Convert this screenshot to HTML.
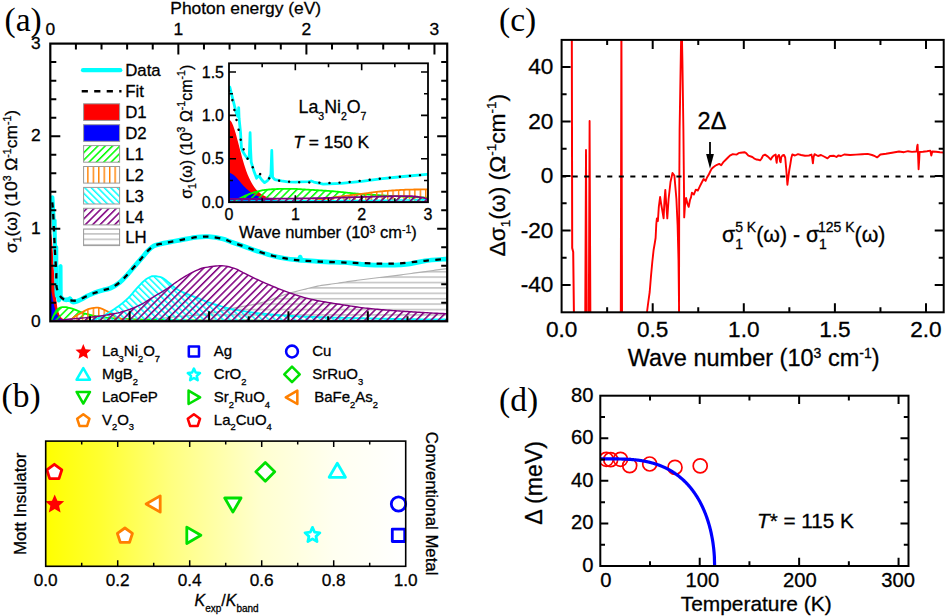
<!DOCTYPE html>
<html><head><meta charset="utf-8"><title>Figure</title>
<style>
html,body{margin:0;padding:0;background:#fff;}
body{width:945px;height:616px;overflow:hidden;}
svg{display:block;font-family:"Liberation Sans", sans-serif;}
svg text{stroke:#000;stroke-width:0.3px;}
svg text.pl{stroke:none;}
</style></head><body>
<svg width="945" height="616" viewBox="0 0 945 616">
<rect width="945" height="616" fill="#fff"/>
<defs><pattern id="hL1" patternUnits="userSpaceOnUse" width="5.2" height="10" patternTransform="rotate(45)"><line x1="0.6" y1="-1" x2="0.6" y2="11" stroke="#00ff00" stroke-width="1.9"/></pattern>
<pattern id="hL2" patternUnits="userSpaceOnUse" width="5.45" height="10" patternTransform="rotate(0)"><line x1="0.6" y1="-1" x2="0.6" y2="11" stroke="#ff8000" stroke-width="1.6"/></pattern>
<pattern id="hL3" patternUnits="userSpaceOnUse" width="4.6" height="10" patternTransform="rotate(-45)"><line x1="0.6" y1="-1" x2="0.6" y2="11" stroke="#00ffff" stroke-width="1.8"/></pattern>
<pattern id="hL4" patternUnits="userSpaceOnUse" width="5.2" height="10" patternTransform="rotate(45)"><line x1="0.6" y1="-1" x2="0.6" y2="11" stroke="#800080" stroke-width="1.9"/></pattern>
<pattern id="hLH" patternUnits="userSpaceOnUse" width="10" height="5.4"><line x1="-1" y1="1.7" x2="11" y2="1.7" stroke="#c4c4c4" stroke-width="1.6"/></pattern><clipPath id="clipA"><rect x="50.3" y="43.6" width="396.9" height="277.7"/></clipPath><clipPath id="clipI"><rect x="229" y="63.3" width="199" height="138.9"/></clipPath></defs>
<g clip-path="url(#clipA)">
<path d="M50.3,233.55 L50.78,235.01 L51.26,239.18 L51.74,245.49 L52.22,253.17 L52.71,261.44 L53.19,269.66 L53.67,277.36 L54.15,284.28 L54.63,290.32 L55.11,295.47 L55.59,299.8 L56.07,303.4 L56.55,306.38 L57.04,308.83 L57.52,310.85 L58,312.5 L58.48,313.87 L58.96,315 L59.44,315.93 L59.92,316.71 L60.4,317.36 L60.88,317.9 L61.37,318.36 L61.85,318.74 L62.33,319.07 L62.81,319.35 L63.29,319.58 L63.77,319.79 L64.25,319.96 L64.73,320.11 L65.21,320.24 L65.69,320.35 L66.18,320.45 L66.66,320.54 L67.14,320.62 L67.62,320.68 L68.1,320.74 L68.58,320.79 L69.06,320.84 L69.54,320.88 L70.02,320.92 L70.51,320.95 L70.99,320.98 L71.47,321.01 L71.95,321.03 L72.43,321.05 L72.91,321.07 L73.39,321.09 L73.87,321.11 L74.35,321.12 L74.84,321.13 L75.32,321.15 L75.8,321.16 L76.28,321.17 L76.76,321.18 L77.24,321.18 L77.72,321.19 L78.2,321.2 L78.68,321.2 L79.17,321.21 L79.65,321.22 L80.13,321.22 L80.61,321.23 L81.09,321.23 L81.57,321.23 L82.05,321.24 L82.53,321.24 L83.01,321.25 L83.5,321.25 L83.98,321.25 L84.46,321.25 L84.94,321.26 L85.42,321.26 L85.9,321.26 L86.38,321.26 L86.86,321.26 L87.34,321.27 L87.83,321.27 L88.31,321.27 L88.79,321.27 L89.27,321.27 L89.75,321.27 L90.23,321.27 L90.71,321.28 L91.19,321.28 L91.67,321.28 L92.15,321.28 L92.64,321.28 L93.12,321.28 L93.6,321.28 L94.08,321.28 L94.56,321.28 L95.04,321.28 L95.52,321.28 L96,321.29 L96.48,321.29 L96.97,321.29 L97.45,321.29 L97.93,321.29 L97.93,321.3 L50.3,321.3 Z" fill="#ff0000" stroke="#ff0000" stroke-width="1.2"/>
<path d="M50.3,290.11 L50.78,290.52 L51.26,291.71 L51.74,293.53 L52.22,295.79 L52.71,298.27 L53.19,300.8 L53.67,303.24 L54.15,305.5 L54.63,307.55 L55.11,309.36 L55.59,310.94 L56.07,312.31 L56.55,313.48 L57.04,314.49 L57.52,315.35 L58,316.09 L58.48,316.72 L58.96,317.26 L59.44,317.72 L59.92,318.12 L60.4,318.47 L60.88,318.77 L61.37,319.03 L61.85,319.26 L62.33,319.46 L62.81,319.64 L63.29,319.79 L63.77,319.93 L64.25,320.05 L64.73,320.16 L65.21,320.25 L65.69,320.34 L66.18,320.42 L66.66,320.49 L67.14,320.55 L67.62,320.6 L68.1,320.66 L68.58,320.7 L69.06,320.74 L69.54,320.78 L70.02,320.82 L70.51,320.85 L70.99,320.88 L71.47,320.9 L71.95,320.93 L72.43,320.95 L72.91,320.97 L73.39,320.99 L73.87,321.01 L74.35,321.02 L74.84,321.04 L75.32,321.05 L75.8,321.07 L76.28,321.08 L76.76,321.09 L77.24,321.1 L77.72,321.11 L78.2,321.12 L78.68,321.13 L79.17,321.14 L79.65,321.15 L80.13,321.15 L80.61,321.16 L81.09,321.17 L81.57,321.17 L82.05,321.18 L82.53,321.18 L83.01,321.19 L83.5,321.19 L83.98,321.2 L84.46,321.2 L84.94,321.2 L85.42,321.21 L85.9,321.21 L86.38,321.22 L86.86,321.22 L87.34,321.22 L87.83,321.22 L88.31,321.23 L88.79,321.23 L89.27,321.23 L89.75,321.23 L90.23,321.24 L90.71,321.24 L91.19,321.24 L91.67,321.24 L92.15,321.25 L92.64,321.25 L93.12,321.25 L93.6,321.25 L94.08,321.25 L94.56,321.25 L95.04,321.26 L95.52,321.26 L96,321.26 L96.48,321.26 L96.97,321.26 L97.45,321.26 L97.93,321.26 L97.93,321.3 L50.3,321.3 Z" fill="#0000ff"/>
<path d="M50.3,321.3 L52.29,321.3 L54.29,321.3 L56.28,321.29 L58.28,321.29 L60.27,321.28 L62.27,321.28 L64.26,321.27 L66.26,321.26 L68.25,321.25 L70.24,321.24 L72.24,321.23 L74.23,321.22 L76.23,321.21 L78.22,321.19 L80.22,321.18 L82.21,321.16 L84.21,321.15 L86.2,321.13 L88.19,321.11 L90.19,321.1 L92.18,321.08 L94.18,321.06 L96.17,321.04 L98.17,321.02 L100.16,321 L102.16,320.97 L104.15,320.94 L106.15,320.9 L108.14,320.86 L110.13,320.81 L112.13,320.76 L114.12,320.71 L116.12,320.65 L118.11,320.59 L120.11,320.53 L122.1,320.46 L124.1,320.39 L126.09,320.31 L128.08,320.23 L130.08,320.15 L132.07,320.07 L134.07,319.99 L136.06,319.9 L138.06,319.81 L140.05,319.71 L142.05,319.62 L144.04,319.52 L146.03,319.42 L148.03,319.31 L150.02,319.19 L152.02,319.04 L154.01,318.89 L156.01,318.73 L158,318.55 L160,318.37 L161.99,318.18 L163.98,317.98 L165.98,317.79 L167.97,317.59 L169.97,317.39 L171.96,317.19 L173.96,316.99 L175.95,316.8 L177.95,316.61 L179.94,316.43 L181.94,316.26 L183.93,316.09 L185.92,315.92 L187.92,315.75 L189.91,315.58 L191.91,315.41 L193.9,315.24 L195.9,315.05 L197.89,314.86 L199.89,314.66 L201.88,314.45 L203.87,314.22 L205.87,313.98 L207.86,313.73 L209.86,313.45 L211.85,313.14 L213.85,312.75 L215.84,312.32 L217.84,311.84 L219.83,311.34 L221.82,310.82 L223.82,310.3 L225.81,309.8 L227.81,309.32 L229.8,308.87 L231.8,308.46 L233.79,308.07 L235.79,307.7 L237.78,307.34 L239.77,306.98 L241.77,306.63 L243.76,306.29 L245.76,305.94 L247.75,305.58 L249.75,305.21 L251.74,304.83 L253.74,304.43 L255.73,304.01 L257.73,303.57 L259.72,303.1 L261.71,302.58 L263.71,302.02 L265.7,301.4 L267.7,300.75 L269.69,300.06 L271.69,299.35 L273.68,298.63 L275.68,297.9 L277.67,297.17 L279.66,296.44 L281.66,295.73 L283.65,295.04 L285.65,294.39 L287.64,293.77 L289.64,293.19 L291.63,292.63 L293.63,292.09 L295.62,291.56 L297.61,291.04 L299.61,290.54 L301.6,290.04 L303.6,289.54 L305.59,289.05 L307.59,288.54 L309.58,288.04 L311.58,287.54 L313.57,287.06 L315.56,286.6 L317.56,286.17 L319.55,285.78 L321.55,285.43 L323.54,285.11 L325.54,284.82 L327.53,284.54 L329.53,284.28 L331.52,284.02 L333.52,283.77 L335.51,283.51 L337.5,283.24 L339.5,282.96 L341.49,282.66 L343.49,282.35 L345.48,282.03 L347.48,281.71 L349.47,281.4 L351.47,281.1 L353.46,280.82 L355.45,280.54 L357.45,280.27 L359.44,280.01 L361.44,279.74 L363.43,279.49 L365.43,279.23 L367.42,278.98 L369.42,278.73 L371.41,278.49 L373.4,278.24 L375.4,278 L377.39,277.76 L379.39,277.52 L381.38,277.28 L383.38,277.04 L385.37,276.8 L387.37,276.55 L389.36,276.31 L391.35,276.06 L393.35,275.81 L395.34,275.56 L397.34,275.31 L399.33,275.05 L401.33,274.79 L403.32,274.52 L405.32,274.26 L407.31,274 L409.31,273.73 L411.3,273.47 L413.29,273.2 L415.29,272.93 L417.28,272.66 L419.28,272.39 L421.27,272.12 L423.27,271.85 L425.26,271.58 L427.26,271.31 L429.25,271.03 L431.24,270.76 L433.24,270.48 L435.23,270.21 L437.23,269.93 L439.22,269.65 L441.22,269.38 L443.21,269.1 L445.21,268.82 L447.2,268.54 L447.2,321.3 L50.3,321.3 Z" fill="url(#hLH)" stroke="#b0b0b0" stroke-width="1.2"/>
<path d="M50.3,321.3 L52.29,318.52 L54.29,314.24 L56.28,310.9 L58.28,308.68 L60.27,307.61 L62.27,307.17 L64.26,307.06 L66.26,307.14 L68.25,307.7 L70.24,308.2 L72.24,308.71 L74.23,309.31 L76.23,310.08 L78.22,310.98 L80.22,311.89 L82.21,312.65 L84.21,313.28 L86.2,313.85 L88.19,314.38 L90.19,314.87 L92.18,315.34 L94.18,315.78 L96.17,316.19 L98.17,316.52 L100.16,316.82 L102.16,317.11 L104.15,317.38 L106.15,317.63 L108.14,317.85 L110.13,318.05 L112.13,318.22 L114.12,318.36 L116.12,318.48 L118.11,318.6 L120.11,318.71 L122.1,318.81 L124.1,318.91 L126.09,319 L128.08,319.08 L130.08,319.17 L132.07,319.24 L134.07,319.31 L136.06,319.38 L138.06,319.44 L140.05,319.5 L142.05,319.55 L144.04,319.6 L146.03,319.64 L148.03,319.69 L150.02,319.73 L152.02,319.78 L154.01,319.82 L156.01,319.86 L158,319.9 L160,319.94 L161.99,319.98 L163.98,320.02 L165.98,320.05 L167.97,320.09 L169.97,320.12 L171.96,320.16 L173.96,320.19 L175.95,320.22 L177.95,320.25 L179.94,320.28 L181.94,320.31 L183.93,320.33 L185.92,320.36 L187.92,320.38 L189.91,320.41 L191.91,320.43 L193.9,320.45 L195.9,320.47 L197.89,320.48 L199.89,320.5 L201.88,320.52 L203.87,320.53 L205.87,320.54 L207.86,320.55 L209.86,320.56 L211.85,320.57 L213.85,320.58 L215.84,320.59 L217.84,320.6 L219.83,320.61 L221.82,320.62 L223.82,320.63 L225.81,320.64 L227.81,320.64 L229.8,320.65 L231.8,320.66 L233.79,320.67 L235.79,320.68 L237.78,320.69 L239.77,320.69 L241.77,320.7 L243.76,320.71 L245.76,320.72 L247.75,320.73 L249.75,320.73 L251.74,320.74 L253.74,320.75 L255.73,320.76 L257.73,320.76 L259.72,320.77 L261.71,320.78 L263.71,320.79 L265.7,320.79 L267.7,320.8 L269.69,320.81 L271.69,320.81 L273.68,320.82 L275.68,320.83 L277.67,320.83 L279.66,320.84 L281.66,320.85 L283.65,320.85 L285.65,320.86 L287.64,320.87 L289.64,320.87 L291.63,320.88 L293.63,320.88 L295.62,320.89 L297.61,320.9 L299.61,320.9 L301.6,320.91 L303.6,320.91 L305.59,320.92 L307.59,320.92 L309.58,320.93 L311.58,320.94 L313.57,320.94 L315.56,320.95 L317.56,320.95 L319.55,320.96 L321.55,320.96 L323.54,320.97 L325.54,320.97 L327.53,320.97 L329.53,320.98 L331.52,320.98 L333.52,320.99 L335.51,320.99 L337.5,321 L339.5,321 L341.49,321.01 L343.49,321.01 L345.48,321.01 L347.48,321.02 L349.47,321.02 L351.47,321.03 L353.46,321.03 L355.45,321.03 L357.45,321.04 L359.44,321.04 L361.44,321.04 L363.43,321.05 L365.43,321.05 L367.42,321.05 L369.42,321.06 L371.41,321.06 L373.4,321.06 L375.4,321.06 L377.39,321.07 L379.39,321.07 L381.38,321.07 L383.38,321.08 L385.37,321.08 L387.37,321.08 L389.36,321.08 L391.35,321.08 L393.35,321.09 L395.34,321.09 L397.34,321.09 L399.33,321.09 L401.33,321.09 L403.32,321.1 L405.32,321.1 L407.31,321.1 L409.31,321.1 L411.3,321.1 L413.29,321.1 L415.29,321.1 L417.28,321.11 L419.28,321.11 L421.27,321.11 L423.27,321.11 L425.26,321.11 L427.26,321.11 L429.25,321.11 L431.24,321.11 L433.24,321.11 L435.23,321.11 L437.23,321.11 L439.22,321.11 L441.22,321.11 L443.21,321.11 L445.21,321.11 L447.2,321.11 L447.2,321.3 L50.3,321.3 Z" fill="url(#hL1)" stroke="#00ff00" stroke-width="1.8"/>
<path d="M50.3,321.3 L52.29,321.3 L54.29,321.3 L56.28,321.3 L58.28,321.3 L60.27,321.3 L62.27,321.3 L64.26,321.24 L66.26,320.95 L68.25,320.49 L70.24,319.84 L72.24,318.55 L74.23,317 L76.23,315.7 L78.22,314.55 L80.22,313.44 L82.21,312.33 L84.21,311.13 L86.2,309.99 L88.19,309.18 L90.19,308.57 L92.18,308.07 L94.18,307.8 L96.17,307.72 L98.17,307.7 L100.16,308.22 L102.16,308.92 L104.15,309.78 L106.15,310.78 L108.14,311.89 L110.13,313.24 L112.13,314.58 L114.12,315.87 L116.12,317.04 L118.11,317.82 L120.11,318.47 L122.1,319.03 L124.1,319.47 L126.09,319.78 L128.08,319.96 L130.08,320.13 L132.07,320.28 L134.07,320.41 L136.06,320.53 L138.06,320.62 L140.05,320.7 L142.05,320.77 L144.04,320.81 L146.03,320.84 L148.03,320.87 L150.02,320.89 L152.02,320.91 L154.01,320.93 L156.01,320.95 L158,320.97 L160,320.99 L161.99,321.01 L163.98,321.02 L165.98,321.04 L167.97,321.05 L169.97,321.07 L171.96,321.08 L173.96,321.09 L175.95,321.11 L177.95,321.12 L179.94,321.13 L181.94,321.14 L183.93,321.15 L185.92,321.15 L187.92,321.16 L189.91,321.17 L191.91,321.17 L193.9,321.18 L195.9,321.19 L197.89,321.19 L199.89,321.19 L201.88,321.2 L203.87,321.2 L205.87,321.2 L207.86,321.21 L209.86,321.21 L211.85,321.21 L213.85,321.21 L215.84,321.21 L217.84,321.21 L219.83,321.22 L221.82,321.22 L223.82,321.22 L225.81,321.22 L227.81,321.22 L229.8,321.22 L231.8,321.23 L233.79,321.23 L235.79,321.23 L237.78,321.23 L239.77,321.23 L241.77,321.23 L243.76,321.23 L245.76,321.24 L247.75,321.24 L249.75,321.24 L251.74,321.24 L253.74,321.24 L255.73,321.24 L257.73,321.24 L259.72,321.25 L261.71,321.25 L263.71,321.25 L265.7,321.25 L267.7,321.25 L269.69,321.25 L271.69,321.25 L273.68,321.25 L275.68,321.26 L277.67,321.26 L279.66,321.26 L281.66,321.26 L283.65,321.26 L285.65,321.26 L287.64,321.26 L289.64,321.26 L291.63,321.26 L293.63,321.27 L295.62,321.27 L297.61,321.27 L299.61,321.27 L301.6,321.27 L303.6,321.27 L305.59,321.27 L307.59,321.27 L309.58,321.27 L311.58,321.27 L313.57,321.27 L315.56,321.27 L317.56,321.28 L319.55,321.28 L321.55,321.28 L323.54,321.28 L325.54,321.28 L327.53,321.28 L329.53,321.28 L331.52,321.28 L333.52,321.28 L335.51,321.28 L337.5,321.28 L339.5,321.28 L341.49,321.28 L343.49,321.28 L345.48,321.29 L347.48,321.29 L349.47,321.29 L351.47,321.29 L353.46,321.29 L355.45,321.29 L357.45,321.29 L359.44,321.29 L361.44,321.29 L363.43,321.29 L365.43,321.29 L367.42,321.29 L369.42,321.29 L371.41,321.29 L373.4,321.29 L375.4,321.29 L377.39,321.29 L379.39,321.29 L381.38,321.29 L383.38,321.29 L385.37,321.29 L387.37,321.3 L389.36,321.3 L391.35,321.3 L393.35,321.3 L395.34,321.3 L397.34,321.3 L399.33,321.3 L401.33,321.3 L403.32,321.3 L405.32,321.3 L407.31,321.3 L409.31,321.3 L411.3,321.3 L413.29,321.3 L415.29,321.3 L417.28,321.3 L419.28,321.3 L421.27,321.3 L423.27,321.3 L425.26,321.3 L427.26,321.3 L429.25,321.3 L431.24,321.3 L433.24,321.3 L435.23,321.3 L437.23,321.3 L439.22,321.3 L441.22,321.3 L443.21,321.3 L445.21,321.3 L447.2,321.3 L447.2,321.3 L50.3,321.3 Z" fill="url(#hL2)" stroke="#ff8000" stroke-width="1.8"/>
<path d="M50.3,321.3 L52.29,321.3 L54.29,321.3 L56.28,321.3 L58.28,321.3 L60.27,321.3 L62.27,321.3 L64.26,321.3 L66.26,321.3 L68.25,321.3 L70.24,321.3 L72.24,321.3 L74.23,321.3 L76.23,321.3 L78.22,321.3 L80.22,321.3 L82.21,321.3 L84.21,321.23 L86.2,321.04 L88.19,320.77 L90.19,320.42 L92.18,320.02 L94.18,319.58 L96.17,319.05 L98.17,318.26 L100.16,317.3 L102.16,316.29 L104.15,315.28 L106.15,314.19 L108.14,313.03 L110.13,311.81 L112.13,310.53 L114.12,309.21 L116.12,307.84 L118.11,306.41 L120.11,304.93 L122.1,303.37 L124.1,301.73 L126.09,300 L128.08,298.17 L130.08,296.12 L132.07,293.82 L134.07,291.42 L136.06,289.06 L138.06,286.88 L140.05,284.82 L142.05,282.74 L144.04,280.82 L146.03,279.22 L148.03,278.05 L150.02,276.99 L152.02,276.24 L154.01,276.04 L156.01,276.2 L158,276.52 L160,276.96 L161.99,277.54 L163.98,278.67 L165.98,280.19 L167.97,281.83 L169.97,283.43 L171.96,285.25 L173.96,287.08 L175.95,288.64 L177.95,289.83 L179.94,290.85 L181.94,291.77 L183.93,292.63 L185.92,293.46 L187.92,294.3 L189.91,295.1 L191.91,295.87 L193.9,296.63 L195.9,297.38 L197.89,298.14 L199.89,298.92 L201.88,299.72 L203.87,300.51 L205.87,301.29 L207.86,302.04 L209.86,302.74 L211.85,303.39 L213.85,304.04 L215.84,304.68 L217.84,305.31 L219.83,305.92 L221.82,306.51 L223.82,307.07 L225.81,307.61 L227.81,308.12 L229.8,308.6 L231.8,309.04 L233.79,309.45 L235.79,309.83 L237.78,310.2 L239.77,310.56 L241.77,310.9 L243.76,311.22 L245.76,311.53 L247.75,311.82 L249.75,312.1 L251.74,312.37 L253.74,312.62 L255.73,312.86 L257.73,313.09 L259.72,313.31 L261.71,313.52 L263.71,313.73 L265.7,313.94 L267.7,314.13 L269.69,314.33 L271.69,314.51 L273.68,314.69 L275.68,314.86 L277.67,315.02 L279.66,315.17 L281.66,315.32 L283.65,315.45 L285.65,315.58 L287.64,315.7 L289.64,315.81 L291.63,315.92 L293.63,316.02 L295.62,316.12 L297.61,316.22 L299.61,316.32 L301.6,316.41 L303.6,316.5 L305.59,316.58 L307.59,316.67 L309.58,316.75 L311.58,316.83 L313.57,316.9 L315.56,316.98 L317.56,317.05 L319.55,317.12 L321.55,317.18 L323.54,317.25 L325.54,317.31 L327.53,317.37 L329.53,317.43 L331.52,317.48 L333.52,317.53 L335.51,317.58 L337.5,317.63 L339.5,317.68 L341.49,317.73 L343.49,317.78 L345.48,317.83 L347.48,317.88 L349.47,317.93 L351.47,317.97 L353.46,318.02 L355.45,318.07 L357.45,318.12 L359.44,318.16 L361.44,318.21 L363.43,318.26 L365.43,318.3 L367.42,318.35 L369.42,318.39 L371.41,318.44 L373.4,318.48 L375.4,318.52 L377.39,318.57 L379.39,318.61 L381.38,318.65 L383.38,318.69 L385.37,318.73 L387.37,318.77 L389.36,318.81 L391.35,318.84 L393.35,318.88 L395.34,318.92 L397.34,318.95 L399.33,318.99 L401.33,319.02 L403.32,319.05 L405.32,319.08 L407.31,319.11 L409.31,319.14 L411.3,319.17 L413.29,319.2 L415.29,319.22 L417.28,319.25 L419.28,319.27 L421.27,319.29 L423.27,319.31 L425.26,319.33 L427.26,319.35 L429.25,319.37 L431.24,319.38 L433.24,319.39 L435.23,319.41 L437.23,319.42 L439.22,319.43 L441.22,319.43 L443.21,319.44 L445.21,319.45 L447.2,319.45 L447.2,321.3 L50.3,321.3 Z" fill="url(#hL3)" stroke="#00ffff" stroke-width="1.8"/>
<path d="M50.3,321.3 L52.29,321.05 L54.29,320.8 L56.28,320.56 L58.28,320.33 L60.27,320.1 L62.27,319.87 L64.26,319.65 L66.26,319.44 L68.25,319.24 L70.24,319.05 L72.24,318.87 L74.23,318.7 L76.23,318.53 L78.22,318.36 L80.22,318.18 L82.21,318.01 L84.21,317.83 L86.2,317.63 L88.19,317.43 L90.19,317.2 L92.18,316.97 L94.18,316.73 L96.17,316.49 L98.17,316.23 L100.16,315.96 L102.16,315.68 L104.15,315.39 L106.15,315.08 L108.14,314.76 L110.13,314.42 L112.13,314.06 L114.12,313.68 L116.12,313.28 L118.11,312.83 L120.11,312.33 L122.1,311.78 L124.1,311.19 L126.09,310.57 L128.08,309.92 L130.08,309.23 L132.07,308.48 L134.07,307.69 L136.06,306.84 L138.06,305.95 L140.05,305 L142.05,303.99 L144.04,302.86 L146.03,301.63 L148.03,300.35 L150.02,299.05 L152.02,297.78 L154.01,296.55 L156.01,295.37 L158,294.2 L160,293.04 L161.99,291.87 L163.98,290.66 L165.98,289.41 L167.97,288.09 L169.97,286.69 L171.96,285.25 L173.96,283.8 L175.95,282.38 L177.95,281.01 L179.94,279.71 L181.94,278.42 L183.93,277.15 L185.92,275.91 L187.92,274.74 L189.91,273.64 L191.91,272.65 L193.9,271.67 L195.9,270.71 L197.89,269.8 L199.89,268.98 L201.88,268.29 L203.87,267.78 L205.87,267.43 L207.86,267.09 L209.86,266.77 L211.85,266.49 L213.85,266.24 L215.84,266.04 L217.84,265.89 L219.83,265.79 L221.82,265.76 L223.82,265.86 L225.81,266.12 L227.81,266.52 L229.8,267.01 L231.8,267.57 L233.79,268.15 L235.79,268.81 L237.78,269.71 L239.77,270.77 L241.77,271.9 L243.76,272.99 L245.76,273.99 L247.75,274.99 L249.75,275.97 L251.74,276.93 L253.74,277.87 L255.73,278.81 L257.73,279.73 L259.72,280.64 L261.71,281.54 L263.71,282.43 L265.7,283.29 L267.7,284.15 L269.69,285 L271.69,285.85 L273.68,286.69 L275.68,287.52 L277.67,288.34 L279.66,289.15 L281.66,289.93 L283.65,290.7 L285.65,291.44 L287.64,292.16 L289.64,292.85 L291.63,293.53 L293.63,294.2 L295.62,294.86 L297.61,295.51 L299.61,296.14 L301.6,296.74 L303.6,297.33 L305.59,297.88 L307.59,298.41 L309.58,298.91 L311.58,299.37 L313.57,299.8 L315.56,300.21 L317.56,300.61 L319.55,300.99 L321.55,301.35 L323.54,301.7 L325.54,302.05 L327.53,302.38 L329.53,302.7 L331.52,303.02 L333.52,303.34 L335.51,303.65 L337.5,303.96 L339.5,304.28 L341.49,304.59 L343.49,304.91 L345.48,305.22 L347.48,305.54 L349.47,305.85 L351.47,306.16 L353.46,306.46 L355.45,306.76 L357.45,307.04 L359.44,307.32 L361.44,307.59 L363.43,307.84 L365.43,308.08 L367.42,308.3 L369.42,308.51 L371.41,308.71 L373.4,308.91 L375.4,309.1 L377.39,309.28 L379.39,309.47 L381.38,309.64 L383.38,309.81 L385.37,309.98 L387.37,310.14 L389.36,310.3 L391.35,310.45 L393.35,310.6 L395.34,310.75 L397.34,310.89 L399.33,311.03 L401.33,311.17 L403.32,311.3 L405.32,311.44 L407.31,311.57 L409.31,311.7 L411.3,311.82 L413.29,311.95 L415.29,312.07 L417.28,312.19 L419.28,312.31 L421.27,312.43 L423.27,312.54 L425.26,312.65 L427.26,312.76 L429.25,312.87 L431.24,312.98 L433.24,313.08 L435.23,313.18 L437.23,313.27 L439.22,313.37 L441.22,313.46 L443.21,313.54 L445.21,313.63 L447.2,313.71 L447.2,321.3 L50.3,321.3 Z" fill="url(#hL4)" stroke="#800080" stroke-width="1.4"/>
<path d="M66.18,299.82 C66.36,299.81 66.76,299.79 67.29,299.73 C67.82,299.67 68.9,299.62 69.35,299.45 C69.8,299.28 69.77,298.65 69.99,298.71 C70.2,298.78 70.14,299.27 70.62,299.82 C71.1,300.38 71.76,301.81 72.84,302.05 C73.93,302.28 75.6,301.72 77.13,301.21 C78.67,300.7 80.41,299.84 82.05,298.99 C83.69,298.14 85.31,296.97 86.97,296.12 C88.64,295.27 90.28,294.62 92.05,293.9 C93.82,293.18 95.83,292.42 97.6,291.8 C99.37,291.18 100.52,290.83 102.7,290.2 C104.88,289.57 107.85,289.32 110.7,288 C113.55,286.68 116.97,284.58 119.8,282.3 C122.63,280.02 125.25,276.95 127.7,274.3 C130.15,271.65 132.22,269.05 134.5,266.4 C136.78,263.75 139.12,261.05 141.4,258.4 C143.68,255.75 146.12,252.58 148.2,250.5 C150.28,248.42 151.63,247.05 153.9,245.9 C156.17,244.75 158.97,244.27 161.8,243.6 C164.63,242.93 167.23,242.6 170.9,241.9 C174.57,241.2 179.37,240.2 183.8,239.4 C188.23,238.6 193.38,237.55 197.5,237.1 C201.62,236.65 204.37,236.42 208.5,236.7 C212.63,236.98 218.4,237.88 222.3,238.8 C226.2,239.72 228,240.83 231.9,242.2 C235.8,243.57 241.12,245.4 245.7,247 C250.28,248.6 254.82,250.3 259.4,251.8 C263.98,253.3 268.62,254.85 273.2,256 C277.78,257.15 282.85,258.07 286.9,258.7 C290.95,259.33 295.43,259.57 297.5,259.8 C299.57,260.03 298.85,260.53 299.3,260.1 C299.75,259.67 299.88,257.17 300.2,257.2 C300.52,257.23 300.73,259.77 301.2,260.3 C301.67,260.83 299.87,260.18 303,260.4 C306.13,260.62 313.83,261.27 320,261.6 C326.17,261.93 335,262.2 340,262.4 C345,262.6 345.83,262.42 350,262.8 C354.17,263.18 360.27,264.32 365,264.7 C369.73,265.08 374.23,265.02 378.4,265.1 C382.57,265.18 386.58,265.23 390,265.2 C393.42,265.17 395.57,265.12 398.9,264.9 C402.23,264.68 405.65,264.58 410,263.9 C414.35,263.22 418.83,261.63 425,260.8 C431.17,259.97 443.33,259.22 447,258.9" fill="none" stroke="#00ffff" stroke-width="4.7" stroke-linejoin="round" stroke-linecap="round"/>
<path d="M52.3,198.19 C52.33,198.25 52.32,195.95 52.49,198.56 C52.67,201.16 53.1,209.39 53.35,213.83 C53.6,218.27 53.81,222.58 53.98,225.22 C54.15,227.85 54.27,229.38 54.36,229.66 C54.45,229.94 54.48,228.41 54.52,226.88 C54.56,225.35 54.59,219.65 54.62,220.49 C54.65,221.34 54.64,227.68 54.71,231.97 C54.78,236.26 54.95,241.06 55.05,246.23 C55.14,251.4 55.17,259.42 55.27,262.98 C55.37,266.55 55.49,266.28 55.63,267.61 C55.77,268.94 56,269.74 56.11,270.94 C56.22,272.15 56.25,274.46 56.28,274.83 C56.31,275.2 56.29,277.76 56.3,273.17 C56.3,268.57 56.3,248.48 56.3,247.25 C56.3,246.01 56.3,260.55 56.31,265.76 C56.31,270.97 56.31,274.8 56.31,278.53 C56.31,282.27 56.23,285.29 56.33,288.16 C56.43,291.03 56.75,294.86 56.9,295.75 C57.06,296.65 57.18,293.85 57.29,293.53 C57.39,293.21 57.41,293.13 57.56,293.81 C57.7,294.49 57.96,296.49 58.17,297.6 C58.39,298.71 58.64,300.23 58.83,300.47 C59.01,300.72 59.13,299.56 59.27,299.08 C59.41,298.61 59.49,298.81 59.67,297.6 C59.84,296.4 60.19,297.11 60.33,291.86 C60.48,286.62 60.47,265.65 60.54,266.13 C60.61,266.61 60.61,289.58 60.73,294.73 C60.85,299.89 61.11,296.57 61.25,297.05 C61.4,297.53 61.32,297.34 61.59,297.6 C61.85,297.87 62.38,298.3 62.84,298.62 C63.31,298.95 63.81,299.35 64.37,299.55 C64.92,299.75 65.69,299.79 66.18,299.82 C66.66,299.86 66.76,299.79 67.29,299.73 C67.82,299.67 68.9,299.62 69.35,299.45 C69.8,299.28 69.77,298.65 69.99,298.71 C70.2,298.78 70.52,299.64 70.62,299.82" fill="none" stroke="#00ffff" stroke-width="4.0" stroke-linejoin="round" stroke-linecap="round"/>
<path d="M52.3,202.35 C52.43,203.97 52.83,207.59 53.09,212.06 C53.36,216.53 53.62,223.52 53.89,229.16 C54.15,234.79 54.42,240.65 54.68,245.86 C54.95,251.08 55.21,256.32 55.48,260.43 C55.74,264.53 56.13,267.68 56.27,270.5 C56.41,273.32 56.29,275.21 56.29,277.34 C56.3,279.46 56.26,281.57 56.32,283.26 C56.38,284.95 56.46,286.31 56.65,287.5 C56.84,288.69 57.18,289.54 57.44,290.41 C57.71,291.27 57.97,292.03 58.24,292.7 C58.5,293.37 58.77,293.95 59.03,294.46 C59.3,294.96 59.56,295.34 59.83,295.72 C60.09,296.11 60.35,296.44 60.62,296.74 C60.88,297.05 61.15,297.32 61.41,297.57 C61.68,297.83 61.94,298.07 62.21,298.28 C62.47,298.49 62.74,298.67 63,298.82 C63.27,298.97 63.53,299.06 63.79,299.16 C64.06,299.27 64.32,299.35 64.59,299.44 C64.85,299.52 65.12,299.59 65.38,299.65 C65.65,299.72 65.91,299.77 66.18,299.82 C66.44,299.88 66.71,299.92 66.97,299.97 C67.23,300.01 67.5,300.05 67.76,300.09 C68.03,300.13 68.29,300.17 68.56,300.2 C68.82,300.24 69.09,300.27 69.35,300.3 C69.62,300.33 69.88,300.36 70.14,300.39 C70.41,300.42 70.67,300.44 70.94,300.47 C71.2,300.5 71.47,300.53 71.73,300.56 C72,300.59 72.26,300.63 72.53,300.65 C72.79,300.68 73.06,300.71 73.32,300.72 C73.58,300.74 73.85,300.75 74.11,300.75 C74.38,300.75 74.64,300.74 74.91,300.71 C75.17,300.69 75.44,300.65 75.7,300.61 C75.97,300.57 76.23,300.51 76.5,300.46 C76.76,300.4 77.02,300.33 77.29,300.26 C77.55,300.2 77.82,300.12 78.08,300.05 C78.35,299.98 78.61,299.91 78.88,299.82 C79.14,299.74 79.41,299.65 79.67,299.54 C79.94,299.43 80.2,299.29 80.46,299.16 C80.73,299.02 80.99,298.88 81.26,298.74 C81.52,298.61 81.79,298.47 82.05,298.34 C82.32,298.21 82.58,298.09 82.85,297.97 C83.11,297.84 83.38,297.71 83.64,297.59 C83.9,297.46 84.17,297.33 84.43,297.2 C84.7,297.07 84.96,296.94 85.23,296.81 C85.49,296.68 85.76,296.55 86.02,296.43 C86.29,296.3 86.55,296.17 86.81,296.05 C87.08,295.92 87.34,295.8 87.61,295.67 C87.87,295.55 88.14,295.43 88.4,295.31 C88.67,295.2 88.93,295.08 89.2,294.97 C89.46,294.86 89.73,294.75 89.99,294.64 C90.25,294.53 90.52,294.43 90.78,294.33 C91.05,294.22 91.31,294.12 91.58,294.02 C91.84,293.92 92.11,293.82 92.37,293.72 C92.64,293.62 92.9,293.52 93.17,293.43 C93.43,293.33 93.69,293.24 93.96,293.14 C94.22,293.05 94.49,292.96 94.75,292.87 C95.02,292.78 95.28,292.69 95.55,292.6 C95.81,292.52 96.08,292.43 96.34,292.35 C96.61,292.26 96.07,292.46 97.13,292.1 C98.19,291.74 100.44,290.88 102.7,290.2 C104.96,289.52 107.85,289.32 110.7,288 C113.55,286.68 116.97,284.58 119.8,282.3 C122.63,280.02 125.25,276.95 127.7,274.3 C130.15,271.65 132.22,269.05 134.5,266.4 C136.78,263.75 139.12,261.05 141.4,258.4 C143.68,255.75 146.12,252.58 148.2,250.5 C150.28,248.42 151.63,247.05 153.9,245.9 C156.17,244.75 158.97,244.27 161.8,243.6 C164.63,242.93 167.23,242.6 170.9,241.9 C174.57,241.2 179.37,240.2 183.8,239.4 C188.23,238.6 193.38,237.55 197.5,237.1 C201.62,236.65 204.37,236.42 208.5,236.7 C212.63,236.98 218.4,237.88 222.3,238.8 C226.2,239.72 228,240.83 231.9,242.2 C235.8,243.57 241.12,245.4 245.7,247 C250.28,248.6 254.82,250.3 259.4,251.8 C263.98,253.3 268.62,254.85 273.2,256 C277.78,257.15 282.43,257.95 286.9,258.7 C291.37,259.45 294.48,260.02 300,260.5 C305.52,260.98 313.33,261.28 320,261.6 C326.67,261.92 335,262.2 340,262.4 C345,262.6 345.83,262.67 350,262.8 C354.17,262.93 360.27,263.07 365,263.2 C369.73,263.33 374.23,263.52 378.4,263.6 C382.57,263.68 386.58,263.73 390,263.7 C393.42,263.67 395.57,263.62 398.9,263.4 C402.23,263.18 405.65,262.83 410,262.4 C414.35,261.97 418.83,261.38 425,260.8 C431.17,260.22 443.33,259.22 447,258.9" fill="none" stroke="#000" stroke-width="2.3" stroke-dasharray="5.5 6.3"/>
</g>
<rect x="50.3" y="43.6" width="396.9" height="277.7" fill="none" stroke="#000" stroke-width="2.2"/>
<path d="M75.91,43.6 v6 M101.52,43.6 v6 M127.13,43.6 v6 M152.74,43.6 v6 M178.35,43.6 v11 M203.96,43.6 v6 M229.57,43.6 v6 M255.18,43.6 v6 M280.79,43.6 v6 M306.4,43.6 v11 M332.01,43.6 v6 M357.62,43.6 v6 M383.23,43.6 v6 M408.84,43.6 v6 M434.45,43.6 v11 M89.99,321.3 v-5 M129.68,321.3 v-10 M169.37,321.3 v-5 M209.06,321.3 v-10 M248.75,321.3 v-5 M288.44,321.3 v-10 M328.13,321.3 v-5 M367.82,321.3 v-10 M407.51,321.3 v-5 M50.3,302.79 h6 M447.2,302.79 h-6 M50.3,284.27 h6 M447.2,284.27 h-6 M50.3,265.76 h6 M447.2,265.76 h-6 M50.3,247.25 h6 M447.2,247.25 h-6 M50.3,228.73 h10 M447.2,228.73 h-10 M50.3,210.22 h6 M447.2,210.22 h-6 M50.3,191.71 h6 M447.2,191.71 h-6 M50.3,173.19 h6 M447.2,173.19 h-6 M50.3,154.68 h6 M447.2,154.68 h-6 M50.3,136.17 h10 M447.2,136.17 h-10 M50.3,117.65 h6 M447.2,117.65 h-6 M50.3,99.14 h6 M447.2,99.14 h-6 M50.3,80.63 h6 M447.2,80.63 h-6 M50.3,62.11 h6 M447.2,62.11 h-6" stroke="#000" stroke-width="2" fill="none"/>
<g font-size="17.4"><text x="50.3" y="35" text-anchor="middle">0</text><text x="178.35" y="35" text-anchor="middle">1</text><text x="306.4" y="35" text-anchor="middle">2</text><text x="434.45" y="35" text-anchor="middle">3</text><text x="40.6" y="326.5" text-anchor="end">0</text><text x="40.6" y="233.93" text-anchor="end">1</text><text x="40.6" y="141.37" text-anchor="end">2</text><text x="40.6" y="48.8" text-anchor="end">3</text></g>
<text x="245.7" y="13.6" font-size="17.4" text-anchor="middle">Photon energy (eV)</text>
<text transform="translate(16.8,181.5) rotate(-90)" font-size="17.4" text-anchor="middle">&#963;<tspan font-size="10.5" dy="4">1</tspan><tspan dy="-4">(&#969;) (10</tspan><tspan font-size="10.5" dy="-6">3</tspan><tspan dy="6"> &#937;</tspan><tspan font-size="10.5" dy="-6">-1</tspan><tspan dy="6">cm</tspan><tspan font-size="10.5" dy="-6">-1</tspan><tspan dy="6">)</tspan></text>
<g><line x1="83" y1="70.2" x2="120.3" y2="70.2" stroke="#00ffff" stroke-width="4.2" stroke-linecap="round"/><line x1="81.7" y1="91.2" x2="121.5" y2="91.2" stroke="#000" stroke-width="2.4" stroke-dasharray="6.2 6.3"/><rect x="83.6" y="103.8" width="36" height="16.6" fill="#ff0000" stroke="#999" stroke-width="1"/><rect x="83.6" y="124.7" width="36" height="16.6" fill="#0000ff" stroke="#999" stroke-width="1"/><rect x="83.6" y="145.6" width="36" height="16.6" fill="url(#hL1)" stroke="#999" stroke-width="1"/><rect x="83.6" y="166.5" width="36" height="16.6" fill="url(#hL2)" stroke="#999" stroke-width="1"/><rect x="83.6" y="187.4" width="36" height="16.6" fill="url(#hL3)" stroke="#999" stroke-width="1"/><rect x="83.6" y="208.3" width="36" height="16.6" fill="url(#hL4)" stroke="#999" stroke-width="1"/><rect x="83.6" y="229" width="36" height="16.6" fill="url(#hLH)" stroke="#999" stroke-width="1"/><text x="125.2" y="76.2" font-size="16.8">Data</text><text x="125.2" y="97.2" font-size="16.8">Fit</text><text x="125.2" y="118" font-size="16.8">D1</text><text x="125.2" y="138.9" font-size="16.8">D2</text><text x="125.2" y="159.8" font-size="16.8">L1</text><text x="125.2" y="180.7" font-size="16.8">L2</text><text x="125.2" y="201.6" font-size="16.8">L3</text><text x="125.2" y="222.5" font-size="16.8">L4</text><text x="125.2" y="243.2" font-size="16.8">LH</text></g>
<rect x="229" y="63.3" width="199" height="138.9" fill="#fff"/>
<g clip-path="url(#clipI)">
<path d="M229,119.9 L230.34,120.51 L231.67,122.3 L233.01,125.15 L234.34,128.89 L235.68,133.32 L237.01,138.2 L238.35,143.33 L239.68,148.52 L241.02,153.62 L242.36,158.5 L243.69,163.08 L245.03,167.32 L246.36,171.19 L247.7,174.69 L249.03,177.83 L250.37,180.62 L251.7,183.1 L253.04,185.29 L254.38,187.22 L255.71,188.92 L257.05,190.41 L258.38,191.72 L259.72,192.87 L261.05,193.88 L262.39,194.76 L263.72,195.54 L265.06,196.23 L266.4,196.84 L267.73,197.38 L269.07,197.85 L270.4,198.27 L271.74,198.65 L273.07,198.98 L274.41,199.27 L275.74,199.54 L277.08,199.77 L278.42,199.99 L279.75,200.18 L281.09,200.35 L282.42,200.5 L283.76,200.64 L285.09,200.76 L286.43,200.88 L287.77,200.98 L289.1,201.07 L290.44,201.16 L291.77,201.23 L293.11,201.3 L294.44,201.37 L295.78,201.43 L297.11,201.48 L298.45,201.53 L299.79,201.57 L301.12,201.61 L302.46,201.65 L303.79,201.69 L305.13,201.72 L306.46,201.75 L307.8,201.78 L309.13,201.8 L310.47,201.83 L311.81,201.85 L313.14,201.87 L314.48,201.89 L315.81,201.91 L317.15,201.92 L318.48,201.94 L319.82,201.95 L321.15,201.97 L322.49,201.98 L323.83,201.99 L325.16,202 L326.5,202.01 L327.83,202.02 L329.17,202.03 L330.5,202.04 L331.84,202.05 L333.17,202.05 L334.51,202.06 L335.85,202.07 L337.18,202.07 L338.52,202.08 L339.85,202.08 L341.19,202.09 L342.52,202.09 L343.86,202.1 L345.19,202.1 L346.53,202.11 L347.87,202.11 L349.2,202.12 L350.54,202.12 L351.87,202.12 L353.21,202.13 L354.54,202.13 L355.88,202.13 L357.21,202.13 L358.55,202.14 L359.89,202.14 L361.22,202.14 L362.56,202.14 L363.89,202.15 L365.23,202.15 L366.56,202.15 L367.9,202.15 L369.23,202.15 L370.57,202.16 L371.91,202.16 L373.24,202.16 L374.58,202.16 L375.91,202.16 L377.25,202.16 L378.58,202.16 L379.92,202.17 L381.26,202.17 L382.59,202.17 L383.93,202.17 L385.26,202.17 L386.6,202.17 L387.93,202.17 L389.27,202.17 L390.6,202.17 L391.94,202.17 L393.28,202.17 L394.61,202.18 L395.95,202.18 L397.28,202.18 L398.62,202.18 L399.95,202.18 L401.29,202.18 L402.62,202.18 L403.96,202.18 L405.3,202.18 L406.63,202.18 L407.97,202.18 L409.3,202.18 L410.64,202.18 L411.97,202.18 L413.31,202.18 L414.64,202.18 L415.98,202.18 L417.32,202.19 L418.65,202.19 L419.99,202.19 L421.32,202.19 L422.66,202.19 L423.99,202.19 L425.33,202.19 L426.66,202.19 L428,202.19 L428,202.2 L229,202.2 Z" fill="#ff0000"/>
<path d="M229,172.94 L230.34,173.12 L231.67,173.63 L233.01,174.44 L234.34,175.52 L235.68,176.81 L237.01,178.24 L238.35,179.78 L239.68,181.35 L241.02,182.92 L242.36,184.46 L243.69,185.94 L245.03,187.33 L246.36,188.63 L247.7,189.84 L249.03,190.95 L250.37,191.96 L251.7,192.88 L253.04,193.72 L254.38,194.47 L255.71,195.15 L257.05,195.77 L258.38,196.32 L259.72,196.82 L261.05,197.28 L262.39,197.68 L263.72,198.05 L265.06,198.38 L266.4,198.68 L267.73,198.95 L269.07,199.2 L270.4,199.42 L271.74,199.63 L273.07,199.81 L274.41,199.98 L275.74,200.13 L277.08,200.27 L278.42,200.4 L279.75,200.52 L281.09,200.63 L282.42,200.73 L283.76,200.82 L285.09,200.9 L286.43,200.98 L287.77,201.05 L289.1,201.12 L290.44,201.18 L291.77,201.24 L293.11,201.29 L294.44,201.34 L295.78,201.39 L297.11,201.43 L298.45,201.47 L299.79,201.51 L301.12,201.54 L302.46,201.57 L303.79,201.6 L305.13,201.63 L306.46,201.66 L307.8,201.69 L309.13,201.71 L310.47,201.73 L311.81,201.75 L313.14,201.77 L314.48,201.79 L315.81,201.81 L317.15,201.82 L318.48,201.84 L319.82,201.86 L321.15,201.87 L322.49,201.88 L323.83,201.9 L325.16,201.91 L326.5,201.92 L327.83,201.93 L329.17,201.94 L330.5,201.95 L331.84,201.96 L333.17,201.97 L334.51,201.98 L335.85,201.98 L337.18,201.99 L338.52,202 L339.85,202.01 L341.19,202.01 L342.52,202.02 L343.86,202.02 L345.19,202.03 L346.53,202.04 L347.87,202.04 L349.2,202.05 L350.54,202.05 L351.87,202.06 L353.21,202.06 L354.54,202.06 L355.88,202.07 L357.21,202.07 L358.55,202.08 L359.89,202.08 L361.22,202.08 L362.56,202.09 L363.89,202.09 L365.23,202.09 L366.56,202.1 L367.9,202.1 L369.23,202.1 L370.57,202.1 L371.91,202.11 L373.24,202.11 L374.58,202.11 L375.91,202.11 L377.25,202.12 L378.58,202.12 L379.92,202.12 L381.26,202.12 L382.59,202.12 L383.93,202.13 L385.26,202.13 L386.6,202.13 L387.93,202.13 L389.27,202.13 L390.6,202.14 L391.94,202.14 L393.28,202.14 L394.61,202.14 L395.95,202.14 L397.28,202.14 L398.62,202.14 L399.95,202.15 L401.29,202.15 L402.62,202.15 L403.96,202.15 L405.3,202.15 L406.63,202.15 L407.97,202.15 L409.3,202.15 L410.64,202.15 L411.97,202.16 L413.31,202.16 L414.64,202.16 L415.98,202.16 L417.32,202.16 L418.65,202.16 L419.99,202.16 L421.32,202.16 L422.66,202.16 L423.99,202.16 L425.33,202.16 L426.66,202.16 L428,202.17 L428,202.2 L229,202.2 Z" fill="#0000ff"/>
<path d="M229,202.2 L230,202.2 L231,202.2 L232,202.2 L233,202.2 L234,202.2 L235,202.2 L236,202.2 L237,202.2 L238,202.2 L239,202.2 L240,202.2 L241,202.2 L242,202.2 L243,202.2 L244,202.2 L245,202.2 L246,202.2 L247,202.2 L248,202.2 L249,202.2 L250,202.2 L251,202.2 L252,202.2 L253,202.2 L254,202.19 L255,202.19 L256,202.19 L257,202.19 L258,202.19 L259,202.19 L260,202.19 L261,202.19 L262,202.19 L263,202.19 L264,202.19 L265,202.19 L266,202.19 L267,202.19 L268,202.19 L269,202.19 L270,202.19 L271,202.19 L272,202.18 L273,202.18 L274,202.18 L275,202.18 L276,202.18 L277,202.18 L278,202.18 L279,202.18 L280,202.18 L281,202.18 L282,202.18 L283,202.18 L284,202.18 L285,202.17 L286,202.17 L287,202.17 L288,202.17 L289,202.17 L290,202.17 L291,202.17 L292,202.17 L293,202.17 L294,202.17 L295,202.17 L296,202.16 L297,202.16 L298,202.16 L299,202.16 L300,202.16 L301,202.16 L302,202.16 L303,202.16 L304,202.16 L305,202.15 L306,202.15 L307,202.15 L308,202.15 L309,202.15 L310,202.15 L311,202.15 L312,202.15 L313,202.15 L314,202.14 L315,202.14 L316,202.14 L317,202.14 L318,202.14 L319,202.14 L320,202.14 L321,202.14 L322,202.13 L323,202.13 L324,202.13 L325,202.13 L326,202.13 L327,202.13 L328,202.13 L329,202.12 L330,202.12 L331,202.12 L332,202.12 L333,202.12 L334,202.12 L335,202.12 L336,202.11 L337,202.11 L338,202.11 L339,202.11 L340,202.11 L341,202.11 L342,202.11 L343,202.1 L344,202.1 L345,202.1 L346,202.1 L347,202.1 L348,202.1 L349,202.09 L350,202.09 L351,202.09 L352,202.09 L353,202.09 L354,202.09 L355,202.08 L356,202.08 L357,202.08 L358,202.08 L359,202.08 L360,202.08 L361,202.07 L362,202.07 L363,202.07 L364,202.07 L365,202.07 L366,202.07 L367,202.06 L368,202.06 L369,202.06 L370,202.06 L371,202.06 L372,202.05 L373,202.05 L374,202.05 L375,202.05 L376,202.05 L377,202.04 L378,202.04 L379,202.04 L380,202.04 L381,202.04 L382,202.04 L383,202.03 L384,202.03 L385,202.03 L386,202.03 L387,202.03 L388,202.02 L389,202.02 L390,202.02 L391,202.02 L392,202.02 L393,202.01 L394,202.01 L395,202.01 L396,202.01 L397,202.01 L398,202 L399,202 L400,202 L401,202 L402,202 L403,201.99 L404,201.99 L405,201.99 L406,201.99 L407,201.99 L408,201.98 L409,201.98 L410,201.98 L411,201.98 L412,201.97 L413,201.97 L414,201.97 L415,201.97 L416,201.97 L417,201.96 L418,201.96 L419,201.96 L420,201.96 L421,201.96 L422,201.95 L423,201.95 L424,201.95 L425,201.95 L426,201.94 L427,201.94 L428,201.94 L428,202.2 L229,202.2 Z" fill="url(#hLH)" stroke="#b0b0b0" stroke-width="1"/>
<path d="M229,202.2 L230,201.98 L231,201.74 L232,201.47 L233,201.17 L234,200.85 L235,200.51 L236,200.15 L237,199.74 L238,199.27 L239,198.77 L240,198.25 L241,197.72 L242,197.21 L243,196.73 L244,196.3 L245,195.86 L246,195.43 L247,195.01 L248,194.59 L249,194.18 L250,193.79 L251,193.42 L252,193.07 L253,192.74 L254,192.45 L255,192.17 L256,191.9 L257,191.63 L258,191.37 L259,191.12 L260,190.88 L261,190.65 L262,190.44 L263,190.24 L264,190.06 L265,189.9 L266,189.77 L267,189.65 L268,189.57 L269,189.49 L270,189.41 L271,189.34 L272,189.27 L273,189.21 L274,189.15 L275,189.1 L276,189.05 L277,189.01 L278,188.98 L279,188.95 L280,188.93 L281,188.91 L282,188.9 L283,188.89 L284,188.88 L285,188.87 L286,188.86 L287,188.85 L288,188.84 L289,188.84 L290,188.83 L291,188.83 L292,188.83 L293,188.84 L294,188.86 L295,188.89 L296,188.93 L297,188.99 L298,189.05 L299,189.11 L300,189.18 L301,189.25 L302,189.32 L303,189.38 L304,189.45 L305,189.51 L306,189.57 L307,189.62 L308,189.68 L309,189.73 L310,189.79 L311,189.84 L312,189.9 L313,189.95 L314,190.01 L315,190.06 L316,190.12 L317,190.18 L318,190.24 L319,190.29 L320,190.35 L321,190.42 L322,190.48 L323,190.54 L324,190.61 L325,190.67 L326,190.74 L327,190.81 L328,190.88 L329,190.95 L330,191.03 L331,191.11 L332,191.19 L333,191.27 L334,191.36 L335,191.45 L336,191.55 L337,191.64 L338,191.74 L339,191.84 L340,191.94 L341,192.04 L342,192.14 L343,192.25 L344,192.35 L345,192.46 L346,192.56 L347,192.66 L348,192.77 L349,192.87 L350,192.97 L351,193.08 L352,193.18 L353,193.28 L354,193.37 L355,193.47 L356,193.56 L357,193.65 L358,193.74 L359,193.83 L360,193.91 L361,193.99 L362,194.06 L363,194.14 L364,194.21 L365,194.29 L366,194.36 L367,194.43 L368,194.5 L369,194.57 L370,194.64 L371,194.7 L372,194.77 L373,194.84 L374,194.9 L375,194.97 L376,195.03 L377,195.09 L378,195.16 L379,195.22 L380,195.28 L381,195.34 L382,195.4 L383,195.46 L384,195.52 L385,195.57 L386,195.63 L387,195.69 L388,195.75 L389,195.8 L390,195.86 L391,195.91 L392,195.97 L393,196.02 L394,196.08 L395,196.13 L396,196.19 L397,196.24 L398,196.29 L399,196.35 L400,196.4 L401,196.45 L402,196.51 L403,196.56 L404,196.61 L405,196.66 L406,196.71 L407,196.76 L408,196.81 L409,196.86 L410,196.91 L411,196.96 L412,197.01 L413,197.06 L414,197.11 L415,197.15 L416,197.2 L417,197.24 L418,197.29 L419,197.33 L420,197.38 L421,197.42 L422,197.46 L423,197.5 L424,197.54 L425,197.58 L426,197.61 L427,197.65 L428,197.69 L428,202.2 L229,202.2 Z" fill="url(#hL1)" stroke="#00ff00" stroke-width="1.8"/>
<path d="M229,202.2 L230,202.2 L231,202.2 L232,202.2 L233,202.2 L234,202.2 L235,202.2 L236,202.2 L237,202.2 L238,202.2 L239,202.2 L240,202.2 L241,202.2 L242,202.2 L243,202.2 L244,202.2 L245,202.2 L246,202.2 L247,202.2 L248,202.2 L249,202.2 L250,202.2 L251,202.2 L252,202.2 L253,202.2 L254,202.2 L255,202.2 L256,202.2 L257,202.2 L258,202.2 L259,202.2 L260,202.2 L261,202.2 L262,202.2 L263,202.2 L264,202.2 L265,202.2 L266,202.2 L267,202.2 L268,202.2 L269,202.2 L270,202.2 L271,202.2 L272,202.2 L273,202.2 L274,202.2 L275,202.2 L276,202.2 L277,202.2 L278,202.2 L279,202.2 L280,202.2 L281,202.2 L282,202.2 L283,202.2 L284,202.19 L285,202.18 L286,202.17 L287,202.15 L288,202.13 L289,202.11 L290,202.08 L291,202.05 L292,202.02 L293,201.98 L294,201.94 L295,201.9 L296,201.86 L297,201.81 L298,201.76 L299,201.71 L300,201.66 L301,201.61 L302,201.55 L303,201.5 L304,201.44 L305,201.38 L306,201.32 L307,201.26 L308,201.2 L309,201.13 L310,201.06 L311,200.97 L312,200.87 L313,200.76 L314,200.63 L315,200.5 L316,200.36 L317,200.21 L318,200.06 L319,199.9 L320,199.73 L321,199.56 L322,199.39 L323,199.21 L324,199.04 L325,198.86 L326,198.68 L327,198.51 L328,198.34 L329,198.17 L330,198 L331,197.84 L332,197.69 L333,197.54 L334,197.4 L335,197.26 L336,197.13 L337,196.99 L338,196.86 L339,196.73 L340,196.6 L341,196.47 L342,196.34 L343,196.21 L344,196.08 L345,195.95 L346,195.82 L347,195.7 L348,195.57 L349,195.45 L350,195.32 L351,195.2 L352,195.07 L353,194.95 L354,194.82 L355,194.7 L356,194.58 L357,194.45 L358,194.33 L359,194.21 L360,194.08 L361,193.96 L362,193.83 L363,193.7 L364,193.57 L365,193.43 L366,193.3 L367,193.16 L368,193.02 L369,192.89 L370,192.75 L371,192.61 L372,192.48 L373,192.35 L374,192.21 L375,192.08 L376,191.96 L377,191.83 L378,191.71 L379,191.6 L380,191.49 L381,191.38 L382,191.28 L383,191.18 L384,191.09 L385,191.01 L386,190.93 L387,190.86 L388,190.79 L389,190.71 L390,190.64 L391,190.57 L392,190.5 L393,190.44 L394,190.37 L395,190.3 L396,190.24 L397,190.17 L398,190.11 L399,190.05 L400,190 L401,189.94 L402,189.89 L403,189.84 L404,189.8 L405,189.75 L406,189.71 L407,189.67 L408,189.64 L409,189.61 L410,189.58 L411,189.56 L412,189.54 L413,189.53 L414,189.52 L415,189.51 L416,189.5 L417,189.49 L418,189.48 L419,189.48 L420,189.47 L421,189.46 L422,189.46 L423,189.45 L424,189.45 L425,189.44 L426,189.44 L427,189.44 L428,189.44 L428,202.2 L229,202.2 Z" fill="url(#hL2)" stroke="#ff8000" stroke-width="1.8"/>
<path d="M229,201.16 L230,201.15 L231,201.15 L232,201.15 L233,201.14 L234,201.14 L235,201.14 L236,201.13 L237,201.13 L238,201.12 L239,201.12 L240,201.12 L241,201.11 L242,201.11 L243,201.1 L244,201.1 L245,201.09 L246,201.09 L247,201.09 L248,201.08 L249,201.08 L250,201.07 L251,201.07 L252,201.06 L253,201.06 L254,201.05 L255,201.05 L256,201.05 L257,201.04 L258,201.04 L259,201.03 L260,201.03 L261,201.02 L262,201.02 L263,201.01 L264,201.01 L265,201 L266,201 L267,200.99 L268,200.99 L269,200.98 L270,200.98 L271,200.97 L272,200.97 L273,200.96 L274,200.96 L275,200.95 L276,200.95 L277,200.94 L278,200.94 L279,200.93 L280,200.92 L281,200.92 L282,200.91 L283,200.91 L284,200.9 L285,200.9 L286,200.89 L287,200.89 L288,200.88 L289,200.88 L290,200.87 L291,200.86 L292,200.86 L293,200.85 L294,200.85 L295,200.84 L296,200.84 L297,200.83 L298,200.82 L299,200.82 L300,200.81 L301,200.81 L302,200.8 L303,200.79 L304,200.79 L305,200.78 L306,200.78 L307,200.77 L308,200.76 L309,200.76 L310,200.75 L311,200.75 L312,200.74 L313,200.73 L314,200.73 L315,200.72 L316,200.72 L317,200.71 L318,200.7 L319,200.7 L320,200.69 L321,200.68 L322,200.68 L323,200.67 L324,200.67 L325,200.66 L326,200.65 L327,200.65 L328,200.64 L329,200.63 L330,200.63 L331,200.62 L332,200.62 L333,200.61 L334,200.6 L335,200.6 L336,200.59 L337,200.58 L338,200.58 L339,200.57 L340,200.56 L341,200.56 L342,200.55 L343,200.54 L344,200.54 L345,200.53 L346,200.52 L347,200.52 L348,200.51 L349,200.5 L350,200.5 L351,200.49 L352,200.48 L353,200.48 L354,200.47 L355,200.46 L356,200.46 L357,200.45 L358,200.44 L359,200.43 L360,200.43 L361,200.42 L362,200.41 L363,200.4 L364,200.4 L365,200.39 L366,200.38 L367,200.37 L368,200.37 L369,200.36 L370,200.35 L371,200.34 L372,200.33 L373,200.32 L374,200.32 L375,200.31 L376,200.3 L377,200.29 L378,200.28 L379,200.27 L380,200.26 L381,200.25 L382,200.25 L383,200.24 L384,200.23 L385,200.22 L386,200.21 L387,200.2 L388,200.19 L389,200.18 L390,200.17 L391,200.16 L392,200.15 L393,200.14 L394,200.13 L395,200.11 L396,200.1 L397,200.09 L398,200.08 L399,200.07 L400,200.05 L401,200.04 L402,200.03 L403,200.01 L404,200 L405,199.99 L406,199.97 L407,199.96 L408,199.94 L409,199.93 L410,199.91 L411,199.89 L412,199.88 L413,199.86 L414,199.84 L415,199.83 L416,199.81 L417,199.79 L418,199.78 L419,199.76 L420,199.74 L421,199.72 L422,199.7 L423,199.69 L424,199.67 L425,199.65 L426,199.63 L427,199.61 L428,199.6 L428,202.2 L229,202.2 Z" fill="url(#hL3)" stroke="#00ffff" stroke-width="1.4"/>
<path d="M229,198.9 L230,198.9 L231,198.9 L232,198.9 L233,198.9 L234,198.9 L235,198.9 L236,198.9 L237,198.89 L238,198.89 L239,198.89 L240,198.89 L241,198.88 L242,198.88 L243,198.88 L244,198.88 L245,198.87 L246,198.87 L247,198.87 L248,198.86 L249,198.86 L250,198.85 L251,198.85 L252,198.84 L253,198.84 L254,198.83 L255,198.83 L256,198.82 L257,198.82 L258,198.81 L259,198.81 L260,198.8 L261,198.79 L262,198.79 L263,198.78 L264,198.77 L265,198.77 L266,198.76 L267,198.75 L268,198.75 L269,198.74 L270,198.73 L271,198.73 L272,198.72 L273,198.71 L274,198.7 L275,198.69 L276,198.69 L277,198.68 L278,198.67 L279,198.66 L280,198.65 L281,198.64 L282,198.64 L283,198.63 L284,198.62 L285,198.61 L286,198.6 L287,198.59 L288,198.58 L289,198.57 L290,198.56 L291,198.55 L292,198.54 L293,198.53 L294,198.53 L295,198.52 L296,198.51 L297,198.5 L298,198.49 L299,198.48 L300,198.47 L301,198.46 L302,198.45 L303,198.43 L304,198.42 L305,198.41 L306,198.39 L307,198.38 L308,198.36 L309,198.34 L310,198.32 L311,198.3 L312,198.29 L313,198.27 L314,198.24 L315,198.22 L316,198.2 L317,198.18 L318,198.16 L319,198.13 L320,198.11 L321,198.08 L322,198.06 L323,198.03 L324,198.01 L325,197.98 L326,197.95 L327,197.93 L328,197.9 L329,197.87 L330,197.85 L331,197.82 L332,197.79 L333,197.76 L334,197.73 L335,197.7 L336,197.68 L337,197.65 L338,197.62 L339,197.59 L340,197.56 L341,197.53 L342,197.5 L343,197.48 L344,197.45 L345,197.42 L346,197.39 L347,197.36 L348,197.34 L349,197.31 L350,197.28 L351,197.25 L352,197.23 L353,197.2 L354,197.18 L355,197.15 L356,197.12 L357,197.1 L358,197.08 L359,197.05 L360,197.03 L361,197.01 L362,196.98 L363,196.96 L364,196.94 L365,196.91 L366,196.89 L367,196.86 L368,196.84 L369,196.81 L370,196.79 L371,196.76 L372,196.73 L373,196.71 L374,196.68 L375,196.65 L376,196.62 L377,196.6 L378,196.57 L379,196.54 L380,196.51 L381,196.49 L382,196.46 L383,196.43 L384,196.41 L385,196.38 L386,196.36 L387,196.33 L388,196.31 L389,196.29 L390,196.26 L391,196.24 L392,196.22 L393,196.2 L394,196.18 L395,196.16 L396,196.15 L397,196.13 L398,196.11 L399,196.1 L400,196.09 L401,196.08 L402,196.07 L403,196.06 L404,196.05 L405,196.04 L406,196.04 L407,196.04 L408,196.04 L409,196.05 L410,196.08 L411,196.13 L412,196.2 L413,196.29 L414,196.39 L415,196.5 L416,196.63 L417,196.76 L418,196.91 L419,197.06 L420,197.21 L421,197.37 L422,197.53 L423,197.74 L424,197.98 L425,198.25 L426,198.54 L427,198.85 L428,199.16 L428,202.2 L229,202.2 Z" fill="url(#hL4)" stroke="#800080" stroke-width="1.8"/>
<path d="M229,86.74 L229.8,87.09 L233.38,101.41 L236.03,112.09 L237.62,116.26 L238.29,113.65 L238.68,107.66 L239.08,118.43 L240.48,131.8 L241.4,147.51 L242.93,151.85 L244.92,154.97 L247.57,158.62 L249.23,157.06 L250.09,132.75 L250.62,150.11 L251.22,162.09 L253.88,171.12 L256.59,178.24 L258.19,176.16 L259.31,176.42 L261.9,179.98 L264.62,182.67 L266.48,181.36 L268.14,179.98 L270.92,174.59 L271.78,150.46 L272.58,177.28 L274.77,179.46 L276.16,179.98 L281.4,180.93 L287.77,181.8 L295.33,182.06 L299.98,181.97 L308.6,181.71 L311.25,181.02 L313.91,182.06 L323.19,184.14 L341.1,183.36 L361.67,181.28 L382.23,178.59 L403.46,176.5 L426.67,174.42 L428,174.42" fill="none" stroke="#00ffff" stroke-width="2.8" stroke-linejoin="round"/>
<path d="M229,90.65 L230,92.22 L231,94.62 L232,98.34 L233,103.04 L234,108.1 L235,112.92 L236,117.46 L237,122.09 L238,126.85 L239,131.71 L240,136.73 L241,140.84 L242,144.26 L243,147.36 L244,150.32 L245,153.09 L246,155.51 L247,157.57 L248,159.42 L249,161.14 L250,162.84 L251,164.54 L252,166.19 L253,167.67 L254,168.92 L255,169.98 L256,170.94 L257,171.81 L258,172.6 L259,173.33 L260,174.02 L261,174.67 L262,175.28 L263,175.85 L264,176.36 L265,176.82 L266,177.23 L267,177.6 L268,177.95 L269,178.28 L270,178.58 L271,178.87 L272,179.14 L273,179.39 L274,179.63 L275,179.85 L276,180.07 L277,180.28 L278,180.47 L279,180.66 L280,180.83 L281,180.98 L282,181.11 L283,181.22 L284,181.32 L285,181.41 L286,181.49 L287,181.57 L288,181.65 L289,181.72 L290,181.78 L291,181.84 L292,181.9 L293,181.95 L294,182 L295,182.04 L296,182.09 L297,182.13 L298,182.17 L299,182.21 L300,182.24 L301,182.28 L302,182.31 L303,182.34 L304,182.38 L305,182.4 L306,182.43 L307,182.46 L308,182.49 L309,182.51 L310,182.54 L311,182.57 L312,182.59 L313,182.61 L314,182.64 L315,182.66 L316,182.69 L317,182.71 L318,182.74 L319,182.76 L320,182.79 L321,182.82 L322,182.84 L323,182.86 L324,182.88 L325,182.9 L326,182.91 L327,182.92 L328,182.93 L329,182.93 L330,182.92 L331,182.91 L332,182.89 L333,182.86 L334,182.83 L335,182.8 L336,182.76 L337,182.72 L338,182.67 L339,182.62 L340,182.57 L341,182.52 L342,182.46 L343,182.4 L344,182.34 L345,182.27 L346,182.21 L347,182.15 L348,182.08 L349,182.02 L350,181.94 L351,181.86 L352,181.76 L353,181.66 L354,181.55 L355,181.44 L356,181.32 L357,181.2 L358,181.08 L359,180.97 L360,180.85 L361,180.74 L362,180.64 L363,180.53 L364,180.42 L365,180.32 L366,180.21 L367,180.1 L368,179.99 L369,179.88 L370,179.77 L371,179.67 L372,179.56 L373,179.45 L374,179.34 L375,179.23 L376,179.12 L377,179.01 L378,178.9 L379,178.79 L380,178.68 L381,178.58 L382,178.47 L383,178.36 L384,178.26 L385,178.15 L386,178.05 L387,177.95 L388,177.85 L389,177.75 L390,177.65 L391,177.55 L392,177.46 L393,177.37 L394,177.27 L395,177.18 L396,177.09 L397,177 L398,176.92 L399,176.83 L400,176.74 L401,176.66 L402,176.57 L403,176.48 L404,176.4 L405,176.32 L406,176.23 L407,176.15 L408,176.07 L409,175.99 L410,175.91 L411,175.83 L412,175.75 L413,175.67 L414,175.59 L415,175.52 L416,175.44 L417,175.37 L418,175.29 L419,175.22 L420,175.15 L421,175.07 L422,175 L423,174.93 L424,174.86 L425,174.79 L426,174.73 L427,174.66 L428,174.59" fill="none" stroke="#000" stroke-width="2.4" stroke-linecap="round" stroke-dasharray="0.1 10"/>
</g>
<rect x="229" y="63.3" width="199" height="138.9" fill="none" stroke="#000" stroke-width="1.8"/>
<path d="M262.17,63.3 v4 M262.17,202.2 v-4 M295.33,63.3 v7 M295.33,202.2 v-7 M328.5,63.3 v4 M328.5,202.2 v-4 M361.67,63.3 v7 M361.67,202.2 v-7 M394.83,63.3 v4 M394.83,202.2 v-4 M229,180.5 h4 M428,180.5 h-4 M229,158.79 h7 M428,158.79 h-7 M229,137.09 h4 M428,137.09 h-4 M229,115.39 h7 M428,115.39 h-7 M229,93.68 h4 M428,93.68 h-4 M229,71.98 h7 M428,71.98 h-7" stroke="#000" stroke-width="1.6" fill="none"/>
<g font-size="16"><text x="224" y="207.9" text-anchor="end">0.0</text><text x="224" y="164.49" text-anchor="end">0.5</text><text x="224" y="121.09" text-anchor="end">1.0</text><text x="224" y="77.68" text-anchor="end">1.5</text><text x="229" y="220" text-anchor="middle">0</text><text x="295.33" y="220" text-anchor="middle">1</text><text x="361.67" y="220" text-anchor="middle">2</text><text x="428" y="220" text-anchor="middle">3</text></g>
<text x="239" y="238.3" font-size="16.5">Wave number (10<tspan font-size="10.5" dy="-5.5">3</tspan><tspan dy="5.5"> cm</tspan><tspan font-size="10.5" dy="-5.5">-1</tspan><tspan dy="5.5">)</tspan></text>
<text transform="translate(191.5,131.8) rotate(-90)" font-size="16" text-anchor="middle">&#963;<tspan font-size="10.5" dy="4">1</tspan><tspan dy="-4">(&#969;) (10</tspan><tspan font-size="10.5" dy="-7">3</tspan><tspan dy="7"> &#937;</tspan><tspan font-size="10.5" dy="-7">-1</tspan><tspan dy="7">cm</tspan><tspan font-size="10.5" dy="-7">-1</tspan><tspan dy="7">)</tspan></text>
<text x="298.5" y="113" font-size="17.8">La<tspan font-size="10.5" dy="6.5">3</tspan><tspan dy="-6.5">Ni</tspan><tspan font-size="10.5" dy="6.5">2</tspan><tspan dy="-6.5">O</tspan><tspan font-size="10.5" dy="6.5">7</tspan></text>
<text x="293.3" y="147.6" font-size="17.4"><tspan font-style="italic">T</tspan> = 150 K</text>
<text class="pl" x="4.5" y="31" font-family='Liberation Serif, serif' font-size="33.5">(a)</text>
<defs><linearGradient id="gradB" x1="0" y1="0" x2="1" y2="0"><stop offset="0" stop-color="#ffff00"/><stop offset="0.15" stop-color="#ffff30"/><stop offset="0.35" stop-color="#ffff80"/><stop offset="0.6" stop-color="#ffffd0"/><stop offset="0.8" stop-color="#fffff0"/><stop offset="1" stop-color="#ffffff"/></linearGradient></defs>
<rect x="45.7" y="441.1" width="360" height="125.2" fill="url(#gradB)"/>
<path d="M54.34,464.3 L61.85,469.76 L58.98,478.59 L49.7,478.59 L46.83,469.76 Z" fill="#fff" stroke="#ff0000" stroke-width="2.8" stroke-linejoin="round"/>
<path d="M54.7,494.4 L57.4,500.68 L64.21,501.31 L59.07,505.82 L60.58,512.49 L54.7,509 L48.82,512.49 L50.33,505.82 L45.19,501.31 L52,500.68 Z" fill="#ff0000"/>
<path d="M124.9,528 L132.41,533.46 L129.54,542.29 L120.26,542.29 L117.39,533.46 Z" fill="#fff" stroke="#ff8000" stroke-width="2.8" stroke-linejoin="round"/>
<path d="M146.1,504 L160.2,495.86 L160.2,512.14 Z" fill="#fff" stroke="#ff8000" stroke-width="2.8" stroke-linejoin="round"/>
<path d="M200.9,535.3 L186.8,543.44 L186.8,527.16 Z" fill="#fff" stroke="#00e000" stroke-width="2.8" stroke-linejoin="round"/>
<path d="M232.9,512.1 L224.76,498 L241.04,498 Z" fill="#fff" stroke="#00e000" stroke-width="2.8" stroke-linejoin="round"/>
<path d="M265.3,462.4 L274.7,471.8 L265.3,481.2 L255.9,471.8 Z" fill="#fff" stroke="#00e000" stroke-width="2.8" stroke-linejoin="round"/>
<path d="M337.3,463.2 L345.44,477.3 L329.16,477.3 Z" fill="#fff" stroke="#00ffff" stroke-width="2.8" stroke-linejoin="round"/>
<path d="M312.46,527.4 L314.63,532.21 L319.88,532.79 L315.98,536.34 L317.04,541.51 L312.46,538.9 L307.88,541.51 L308.94,536.34 L305.04,532.79 L310.29,532.21 Z" fill="#fff" stroke="#00ffff" stroke-width="2.8" stroke-linejoin="round"/>
<circle cx="398.5" cy="504" r="7.2" fill="#fff" stroke="#0000ff" stroke-width="2.8" stroke-linejoin="round"/>
<rect x="392.3" y="529.1" width="12.4" height="12.4" fill="#fff" stroke="#0000ff" stroke-width="2.8" stroke-linejoin="round"/>
<rect x="45.7" y="441.1" width="360" height="125.2" fill="none" stroke="#000" stroke-width="1.6"/>
<path d="M81.7,441.1 v3.5 M81.7,566.3 v-3.5 M117.7,441.1 v6 M117.7,566.3 v-6 M153.7,441.1 v3.5 M153.7,566.3 v-3.5 M189.7,441.1 v6 M189.7,566.3 v-6 M225.7,441.1 v3.5 M225.7,566.3 v-3.5 M261.7,441.1 v6 M261.7,566.3 v-6 M297.7,441.1 v3.5 M297.7,566.3 v-3.5 M333.7,441.1 v6 M333.7,566.3 v-6 M369.7,441.1 v3.5 M369.7,566.3 v-3.5" stroke="#000" stroke-width="1.5"/>
<g font-size="17.2"><text x="45.7" y="586.3" text-anchor="middle">0.0</text><text x="117.7" y="586.3" text-anchor="middle">0.2</text><text x="189.7" y="586.3" text-anchor="middle">0.4</text><text x="261.7" y="586.3" text-anchor="middle">0.6</text><text x="333.7" y="586.3" text-anchor="middle">0.8</text><text x="405.7" y="586.3" text-anchor="middle">1.0</text></g>
<text x="194.5" y="605.5" font-size="16"><tspan font-style="italic">K</tspan><tspan font-size="10" dy="6">exp</tspan><tspan dy="-6">/</tspan><tspan font-style="italic">K</tspan><tspan font-size="10" dy="6">band</tspan></text>
<text transform="translate(26.3,503.8) rotate(-90)" font-size="16.9" text-anchor="middle">Mott Insulator</text>
<text transform="translate(425.6,503.6) rotate(90)" font-size="16.8" text-anchor="middle">Conventional Metal</text>
<path d="M83.3,344.04 L85.52,349.19 L91.1,349.7 L86.89,353.4 L88.12,358.87 L83.3,356.01 L78.48,358.87 L79.71,353.4 L75.5,349.7 L81.08,349.19 Z" fill="#ff0000"/>
<text x="101.9" y="356.4" font-size="15"><tspan>La</tspan><tspan font-size="9.4" dy="5.3">3</tspan><tspan dy="-5.3">Ni</tspan><tspan font-size="9.4" dy="5.3">2</tspan><tspan dy="-5.3">O</tspan><tspan font-size="9.4" dy="5.3">7</tspan></text>
<path d="M83.3,368.17 L89.98,379.73 L76.62,379.73 Z" fill="#fff" stroke="#00ffff" stroke-width="2.55" stroke-linejoin="round"/>
<text x="101.9" y="379.3" font-size="15"><tspan>MgB</tspan><tspan font-size="9.4" dy="5.3">2</tspan></text>
<path d="M83.3,403.53 L76.62,391.97 L89.98,391.97 Z" fill="#fff" stroke="#00e000" stroke-width="2.55" stroke-linejoin="round"/>
<text x="101.9" y="402.2" font-size="15"><tspan>LaOFeP</tspan></text>
<path d="M83.3,414.21 L89.46,418.69 L87.11,425.93 L79.49,425.93 L77.14,418.69 Z" fill="#fff" stroke="#ff8000" stroke-width="2.55" stroke-linejoin="round"/>
<text x="101.9" y="425.1" font-size="15"><tspan>V</tspan><tspan font-size="9.4" dy="5.3">2</tspan><tspan dy="-5.3">O</tspan><tspan font-size="9.4" dy="5.3">3</tspan></text>
<rect x="188.82" y="346.42" width="10.17" height="10.17" fill="#fff" stroke="#0000ff" stroke-width="2.55" stroke-linejoin="round"/>
<text x="213.8" y="356.4" font-size="15"><tspan>Ag</tspan></text>
<path d="M193.9,368.58 L195.68,372.52 L199.98,373 L196.79,375.91 L197.66,380.15 L193.9,378.01 L190.14,380.15 L191.01,375.91 L187.82,373 L192.12,372.52 Z" fill="#fff" stroke="#00ffff" stroke-width="2.55" stroke-linejoin="round"/>
<text x="213.8" y="379.3" font-size="15"><tspan>CrO</tspan><tspan font-size="9.4" dy="5.3">2</tspan></text>
<path d="M200.13,397.3 L188.57,403.98 L188.57,390.62 Z" fill="#fff" stroke="#00e000" stroke-width="2.55" stroke-linejoin="round"/>
<text x="213.8" y="402.2" font-size="15"><tspan>Sr</tspan><tspan font-size="9.4" dy="5.3">2</tspan><tspan dy="-5.3">RuO</tspan><tspan font-size="9.4" dy="5.3">4</tspan></text>
<path d="M193.9,414.21 L200.06,418.69 L197.71,425.93 L190.09,425.93 L187.74,418.69 Z" fill="#fff" stroke="#ff0000" stroke-width="2.55" stroke-linejoin="round"/>
<text x="213.8" y="425.1" font-size="15"><tspan>La</tspan><tspan font-size="9.4" dy="5.3">2</tspan><tspan dy="-5.3">CuO</tspan><tspan font-size="9.4" dy="5.3">4</tspan></text>
<circle cx="292" cy="351.5" r="5.9" fill="#fff" stroke="#0000ff" stroke-width="2.55" stroke-linejoin="round"/>
<text x="312.2" y="356.4" font-size="15"><tspan>Cu</tspan></text>
<path d="M292,366.69 L299.71,374.4 L292,382.11 L284.29,374.4 Z" fill="#fff" stroke="#00e000" stroke-width="2.55" stroke-linejoin="round"/>
<text x="312.2" y="379.3" font-size="15"><tspan>SrRuO</tspan><tspan font-size="9.4" dy="5.3">3</tspan></text>
<path d="M285.77,397.3 L297.33,390.62 L297.33,403.98 Z" fill="#fff" stroke="#ff8000" stroke-width="2.55" stroke-linejoin="round"/>
<text x="314.2" y="402.2" font-size="15"><tspan>BaFe</tspan><tspan font-size="9.4" dy="5.3">2</tspan><tspan dy="-5.3">As</tspan><tspan font-size="9.4" dy="5.3">2</tspan></text>
<text class="pl" x="1.5" y="407" font-family="Liberation Serif, serif" font-size="33.5">(b)</text>
<defs><clipPath id="clipC"><rect x="561.6" y="39.9" width="382.1" height="272.4"/></clipPath></defs>
<g clip-path="url(#clipC)" fill="none" stroke="#ff0000" stroke-width="1.9" stroke-linejoin="round">
<path d="M571.8,30 L572.2,248 L573.2,252 L574,320" stroke-width="2"/>
<path d="M585.2,320 L586,150 L586.8,320"/>
<path d="M588.8,320 L589.6,121 L590.4,320"/>
<path d="M620.8,320 L621.4,30 L622,320" stroke-width="2"/>
<path d="M646.6,320 L647,312 L648.3,302 L649.7,292 L651,276 L652.3,262 L653.6,250 L654.8,243 L655.6,238 L656.3,224 L656.9,218.4 L657.9,221 L658.8,207 L660.1,197 L661,203 L662.1,209.4 L663.6,218.4 L664.5,200 L665.3,189.9 L666.3,205 L667.3,218.4 L668.6,199 L670.5,182 L672.5,173 L674.4,175.6 L676.4,199 L677.6,225 L678.5,260 L679.2,320 L679,320 L679.2,200 L679.6,130 L680.9,50 L681.3,30 L681.8,30 L682.4,60 L683.4,130 L684,190 L684.2,217.4 L685,205 L686.1,197.9 L687.5,204 L688.7,206.8 L690,200 L691,197.4 L691.9,192.6 L693.9,194.5 L695.8,189.7 L697.8,190.6 L699.7,186.7 L701.5,183 L703.6,179 L705.6,180.9 L707,177.5 L708.5,175.1 L710,172 L711.4,169.2 L713,167.5 L715.3,165.8 L717,164.8 L719.2,163.9 L721.2,165.3 L723.1,162.4 L726,159.5 L728,157.5 L729.9,155.6 L732.8,154.1 L736.7,154.6 L738.5,153.2 L740.6,152.7 L744.5,152.2 L746,153 L748.4,155.6 L752.3,157 L754,158.3 L756.2,159.5 L758.5,159.8 L760.1,160.4 L761.6,158.5 L763,155.6 L765,154.6 L767.9,156.6 L770.8,159.5 L772.3,157 L773.7,155.6 L775.7,154.6 L776.2,160 L776.7,162.9 L777.2,157 L777.6,156.6 L779,155 L780.1,161.5 L780.6,162.3 L781.3,157 L782.5,155.5 L784,155 L785.2,157.5 L786.3,170 L787.4,184.8 L788.5,176 L789.3,170 L790.3,164.3 L791.3,158 L792.3,154.5 L795,155.5 L798,154.2 L801.1,155 L805,155.8 L809,155.5 L811.5,154.6 L812.2,158 L812.9,163.3 L813.6,157 L814.5,154.2 L818,156 L821,155 L824,156.5 L827.5,158.4 L830,156 L834,155.8 L836.5,157 L838.3,155.5 L841,156 L844.2,154.5 L850,155 L856,154.6 L862,154.2 L867.7,153.9 L872,155 L875,156.2 L877.1,157.4 L879,155.8 L880.4,154.5 L886,153.8 L892,152.8 L899,151.5 L904,152.2 L908,151.2 L912,151.9 L916.6,151.5 L917.2,146 L917.6,144.7 L918.1,156 L918.6,169.2 L919.2,160 L919.6,152 L923,151.8 L927,151.2 L930.3,150.6 L930.8,153 L931.3,155.5 L932.3,151.5 L936,151.8 L940,152.3 L944,152.5"/>
</g>
<line x1="561.1" y1="176.45" x2="943.7" y2="176.45" stroke="#000" stroke-width="1.9" stroke-dasharray="5.1 6.43"/>
<rect x="561.6" y="39.9" width="382.1" height="272.4" fill="none" stroke="#000" stroke-width="2"/>
<path d="M607.15,39.9 v5 M607.15,312.3 v-5 M652.7,39.9 v9 M652.7,312.3 v-9 M698.25,39.9 v5 M698.25,312.3 v-5 M743.8,39.9 v9 M743.8,312.3 v-9 M789.35,39.9 v5 M789.35,312.3 v-5 M834.9,39.9 v9 M834.9,312.3 v-9 M880.45,39.9 v5 M880.45,312.3 v-5 M926,39.9 v9 M926,312.3 v-9 M561.6,285.05 h9 M943.7,285.05 h-9 M561.6,257.8 h5 M943.7,257.8 h-5 M561.6,230.55 h9 M943.7,230.55 h-9 M561.6,203.3 h5 M943.7,203.3 h-5 M561.6,176.05 h9 M943.7,176.05 h-9 M561.6,148.8 h5 M943.7,148.8 h-5 M561.6,121.55 h9 M943.7,121.55 h-9 M561.6,94.3 h5 M943.7,94.3 h-5 M561.6,67.05 h9 M943.7,67.05 h-9" stroke="#000" stroke-width="2"/>
<g font-size="22.6"><text x="561.6" y="336.9" text-anchor="middle">0.0</text><text x="652.7" y="336.9" text-anchor="middle">0.5</text><text x="743.8" y="336.9" text-anchor="middle">1.0</text><text x="834.9" y="336.9" text-anchor="middle">1.5</text><text x="926" y="336.9" text-anchor="middle">2.0</text><text x="553.3" y="292.15" text-anchor="end">-40</text><text x="553.3" y="237.65" text-anchor="end">-20</text><text x="553.3" y="183.15" text-anchor="end">0</text><text x="553.3" y="128.65" text-anchor="end">20</text><text x="553.3" y="74.15" text-anchor="end">40</text></g>
<text x="753.6" y="365.5" font-size="23.5" text-anchor="middle">Wave number (10<tspan font-size="14" dy="-8">3</tspan><tspan dy="8"> cm</tspan><tspan font-size="14" dy="-8">-1</tspan><tspan dy="8">)</tspan></text>
<text transform="translate(504.6,175.2) rotate(-90)" font-size="22.8" text-anchor="middle">&#916;&#963;<tspan font-size="13.5" dy="5">1</tspan><tspan dy="-5">(&#969;) (&#937;</tspan><tspan font-size="13.5" dy="-9">-1</tspan><tspan dy="9">cm</tspan><tspan font-size="13.5" dy="-9">-1</tspan><tspan dy="9">)</tspan></text>
<text x="697.6" y="129.2" font-size="23.5">2&#916;</text>
<line x1="710" y1="142" x2="710" y2="156" stroke="#000" stroke-width="1.8"/>
<path d="M706.1,154 L713.9,154 L710,168.8 Z" fill="#000"/>
<text x="722" y="242.2" font-size="21.3">&#963;<tspan font-size="14" dy="7">1</tspan><tspan font-size="14" dx="-7.8" dy="-17.5">5 K</tspan><tspan dy="10.5">(&#969;) - &#963;</tspan><tspan font-size="14" dy="7">1</tspan><tspan font-size="14" dx="-7.8" dy="-17.5">125 K</tspan><tspan dy="10.5">(&#969;)</tspan></text>
<text class="pl" x="499" y="31" font-family="Liberation Serif, serif" font-size="33.5">(c)</text>
<defs><clipPath id="clipD"><rect x="600.3" y="395.7" width="308.2" height="170.3"/></clipPath></defs>
<g clip-path="url(#clipD)">
<circle cx="606.3" cy="459.3" r="7" fill="none" stroke="#ff0000" stroke-width="1.7"/>
<circle cx="610.7" cy="459.6" r="7" fill="none" stroke="#ff0000" stroke-width="1.7"/>
<circle cx="620.5" cy="459.3" r="7" fill="none" stroke="#ff0000" stroke-width="1.7"/>
<circle cx="629.7" cy="465.6" r="7" fill="none" stroke="#ff0000" stroke-width="1.7"/>
<circle cx="649.7" cy="464" r="7" fill="none" stroke="#ff0000" stroke-width="1.7"/>
<circle cx="675" cy="467.4" r="7" fill="none" stroke="#ff0000" stroke-width="1.7"/>
<circle cx="700.2" cy="465.9" r="7" fill="none" stroke="#ff0000" stroke-width="1.7"/>
<path d="M600.3,458.91 L600.59,458.91 L600.87,458.91 L601.16,458.91 L601.44,458.91 L601.73,458.91 L602.01,458.91 L602.3,458.91 L602.59,458.91 L602.87,458.91 L603.16,458.91 L603.44,458.91 L603.73,458.91 L604.02,458.91 L604.3,458.91 L604.59,458.91 L604.87,458.91 L605.16,458.91 L605.44,458.91 L605.73,458.91 L606.02,458.91 L606.3,458.91 L606.59,458.91 L606.87,458.91 L607.16,458.91 L607.45,458.91 L607.73,458.91 L608.02,458.91 L608.3,458.91 L608.59,458.91 L608.87,458.91 L609.16,458.91 L609.45,458.91 L609.73,458.91 L610.02,458.91 L610.3,458.91 L610.59,458.91 L610.88,458.91 L611.16,458.91 L611.45,458.92 L611.73,458.92 L612.02,458.92 L612.3,458.92 L612.59,458.92 L612.88,458.92 L613.16,458.92 L613.45,458.92 L613.73,458.92 L614.02,458.92 L614.31,458.93 L614.59,458.93 L614.88,458.93 L615.16,458.93 L615.45,458.93 L615.73,458.93 L616.02,458.94 L616.31,458.94 L616.59,458.94 L616.88,458.95 L617.16,458.95 L617.45,458.95 L617.74,458.96 L618.02,458.96 L618.31,458.96 L618.59,458.97 L618.88,458.97 L619.16,458.98 L619.45,458.98 L619.74,458.99 L620.02,458.99 L620.31,459 L620.59,459 L620.88,459.01 L621.17,459.02 L621.45,459.02 L621.74,459.03 L622.02,459.04 L622.31,459.05 L622.59,459.05 L622.88,459.06 L623.17,459.07 L623.45,459.08 L623.74,459.09 L624.02,459.1 L624.31,459.11 L624.6,459.12 L624.88,459.13 L625.17,459.14 L625.45,459.15 L625.74,459.17 L626.02,459.18 L626.31,459.19 L626.6,459.21 L626.88,459.22 L627.17,459.23 L627.45,459.25 L627.74,459.26 L628.03,459.28 L628.31,459.3 L628.6,459.31 L628.88,459.33 L629.17,459.35 L629.45,459.37 L629.74,459.38 L630.03,459.4 L630.31,459.42 L630.6,459.44 L630.88,459.46 L631.17,459.49 L631.46,459.51 L631.74,459.53 L632.03,459.55 L632.31,459.58 L632.6,459.6 L632.88,459.62 L633.17,459.65 L633.46,459.67 L633.74,459.7 L634.03,459.73 L634.31,459.76 L634.6,459.78 L634.89,459.81 L635.17,459.84 L635.46,459.87 L635.74,459.9 L636.03,459.93 L636.31,459.97 L636.6,460 L636.89,460.03 L637.17,460.07 L637.46,460.1 L637.74,460.14 L638.03,460.17 L638.32,460.21 L638.6,460.25 L638.89,460.28 L639.17,460.32 L639.46,460.36 L639.74,460.4 L640.03,460.44 L640.32,460.49 L640.6,460.53 L640.89,460.57 L641.17,460.61 L641.46,460.66 L641.75,460.71 L642.03,460.75 L642.32,460.8 L642.6,460.85 L642.89,460.9 L643.17,460.94 L643.46,460.99 L643.75,461.05 L644.03,461.1 L644.32,461.15 L644.6,461.2 L644.89,461.26 L645.18,461.31 L645.46,461.37 L645.75,461.43 L646.03,461.49 L646.32,461.54 L646.6,461.6 L646.89,461.66 L647.18,461.73 L647.46,461.79 L647.75,461.85 L648.03,461.92 L648.32,461.98 L648.61,462.05 L648.89,462.12 L649.18,462.18 L649.46,462.25 L649.75,462.32 L650.03,462.39 L650.32,462.47 L650.61,462.54 L650.89,462.61 L651.18,462.69 L651.46,462.76 L651.75,462.84 L652.04,462.92 L652.32,463 L652.61,463.08 L652.89,463.16 L653.18,463.24 L653.46,463.32 L653.75,463.41 L654.04,463.49 L654.32,463.58 L654.61,463.67 L654.89,463.76 L655.18,463.85 L655.47,463.94 L655.75,464.03 L656.04,464.12 L656.32,464.22 L656.61,464.31 L656.89,464.41 L657.18,464.51 L657.47,464.61 L657.75,464.71 L658.04,464.81 L658.32,464.91 L658.61,465.02 L658.9,465.12 L659.18,465.23 L659.47,465.34 L659.75,465.45 L660.04,465.56 L660.32,465.67 L660.61,465.78 L660.9,465.89 L661.18,466.01 L661.47,466.13 L661.75,466.25 L662.04,466.37 L662.33,466.49 L662.61,466.61 L662.9,466.73 L663.18,466.86 L663.47,466.98 L663.75,467.11 L664.04,467.24 L664.33,467.37 L664.61,467.5 L664.9,467.64 L665.18,467.77 L665.47,467.91 L665.76,468.05 L666.04,468.19 L666.33,468.33 L666.61,468.47 L666.9,468.62 L667.18,468.76 L667.47,468.91 L667.76,469.06 L668.04,469.21 L668.33,469.36 L668.61,469.52 L668.9,469.67 L669.19,469.83 L669.47,469.99 L669.76,470.15 L670.04,470.31 L670.33,470.48 L670.61,470.64 L670.9,470.81 L671.19,470.98 L671.47,471.15 L671.76,471.32 L672.04,471.5 L672.33,471.67 L672.62,471.85 L672.9,472.03 L673.19,472.21 L673.47,472.4 L673.76,472.58 L674.04,472.77 L674.33,472.96 L674.62,473.15 L674.9,473.35 L675.19,473.54 L675.47,473.74 L675.76,473.94 L676.05,474.15 L676.33,474.35 L676.62,474.56 L676.9,474.76 L677.19,474.98 L677.47,475.19 L677.76,475.4 L678.05,475.62 L678.33,475.84 L678.62,476.06 L678.9,476.29 L679.19,476.51 L679.48,476.74 L679.76,476.97 L680.05,477.21 L680.33,477.44 L680.62,477.68 L680.9,477.92 L681.19,478.17 L681.48,478.41 L681.76,478.66 L682.05,478.91 L682.33,479.17 L682.62,479.43 L682.91,479.69 L683.19,479.95 L683.48,480.21 L683.76,480.48 L684.05,480.75 L684.33,481.02 L684.62,481.3 L684.91,481.58 L685.19,481.86 L685.48,482.15 L685.76,482.44 L686.05,482.73 L686.34,483.02 L686.62,483.32 L686.91,483.62 L687.19,483.93 L687.48,484.24 L687.76,484.55 L688.05,484.86 L688.34,485.18 L688.62,485.5 L688.91,485.83 L689.19,486.16 L689.48,486.49 L689.77,486.83 L690.05,487.17 L690.34,487.51 L690.62,487.86 L690.91,488.21 L691.19,488.57 L691.48,488.93 L691.77,489.29 L692.05,489.66 L692.34,490.03 L692.62,490.41 L692.91,490.79 L693.2,491.18 L693.48,491.57 L693.77,491.97 L694.05,492.37 L694.34,492.77 L694.62,493.19 L694.91,493.6 L695.2,494.02 L695.48,494.45 L695.77,494.88 L696.05,495.32 L696.34,495.76 L696.63,496.21 L696.91,496.66 L697.2,497.12 L697.48,497.59 L697.77,498.06 L698.05,498.54 L698.34,499.03 L698.63,499.52 L698.91,500.02 L699.2,500.53 L699.48,501.04 L699.77,501.57 L700.06,502.09 L700.34,502.63 L700.63,503.18 L700.91,503.73 L701.2,504.29 L701.48,504.86 L701.77,505.44 L702.06,506.03 L702.34,506.63 L702.63,507.24 L702.91,507.86 L703.2,508.49 L703.49,509.13 L703.77,509.78 L704.06,510.44 L704.34,511.12 L704.63,511.81 L704.91,512.51 L705.2,513.23 L705.49,513.96 L705.77,514.7 L706.06,515.46 L706.34,516.24 L706.63,517.03 L706.92,517.85 L707.2,518.68 L707.49,519.53 L707.77,520.4 L708.06,521.3 L708.34,522.22 L708.63,523.16 L708.92,524.13 L709.2,525.13 L709.49,526.16 L709.77,527.23 L710.06,528.33 L710.35,529.48 L710.63,530.66 L710.92,531.9 L711.2,533.19 L711.49,534.54 L711.77,535.96 L712.06,537.46 L712.35,539.05 L712.63,540.76 L712.92,542.6 L713.2,544.6 L713.49,546.84 L713.78,549.38 L714.06,552.41 L714.35,556.38 L714.63,566" fill="none" stroke="#0000ff" stroke-width="3.2"/>
</g>
<rect x="600.3" y="395.7" width="308.2" height="170.3" fill="none" stroke="#000" stroke-width="2"/>
<path d="M650.01,395.7 v4.7 M650.01,566 v-4.7 M699.72,395.7 v8.2 M699.72,566 v-8.2 M749.43,395.7 v4.7 M749.43,566 v-4.7 M799.14,395.7 v8.2 M799.14,566 v-8.2 M848.85,395.7 v4.7 M848.85,566 v-4.7 M898.56,395.7 v8.2 M898.56,566 v-8.2 M600.3,544.71 h4.7 M908.5,544.71 h-4.7 M600.3,523.42 h8 M908.5,523.42 h-8 M600.3,502.13 h4.7 M908.5,502.13 h-4.7 M600.3,480.84 h8 M908.5,480.84 h-8 M600.3,459.55 h4.7 M908.5,459.55 h-4.7 M600.3,438.26 h8 M908.5,438.26 h-8 M600.3,416.97 h4.7 M908.5,416.97 h-4.7" stroke="#000" stroke-width="2"/>
<g font-size="20.2"><text x="605.8" y="587.3" text-anchor="middle">0</text><text x="702.4" y="587.3" text-anchor="middle">100</text><text x="799.8" y="587.3" text-anchor="middle">200</text><text x="898.2" y="587.3" text-anchor="middle">300</text><text x="593.5" y="571.9" text-anchor="end">0</text><text x="593.5" y="529.32" text-anchor="end">20</text><text x="593.5" y="486.74" text-anchor="end">40</text><text x="593.5" y="444.16" text-anchor="end">60</text><text x="593.5" y="401.58" text-anchor="end">80</text></g>
<text x="756.2" y="611.4" font-size="20.9" text-anchor="middle">Temperature (K)</text>
<text transform="translate(542,482.8) rotate(-90)" font-size="23.2" text-anchor="middle">&#916; (meV)</text>
<text x="757" y="527.9" font-size="20.7"><tspan font-style="italic">T</tspan>* = 115 K</text>
<text class="pl" x="499" y="411.3" font-family="Liberation Serif, serif" font-size="33.5">(d)</text>
</svg>
</body></html>
